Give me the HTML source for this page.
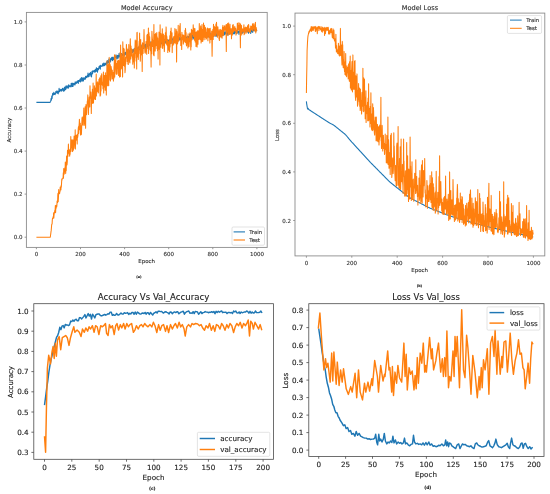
<!DOCTYPE html>
<html lang="en"><head><meta charset="utf-8"><title>Model accuracy and loss curves</title>
<style>
html,body{margin:0;padding:0;background:#fff;}
body{width:550px;height:494px;overflow:hidden;}
svg{display:block;font-family:"DejaVu Sans", "Liberation Sans", sans-serif;}
</style></head><body>
<svg width="550" height="494" viewBox="0 0 550 494">
<rect width="550" height="494" fill="#fff"/>
<g>
<polyline points="36.4,102.4 36.6,102.4 36.8,102.4 37.1,102.4 37.3,102.4 37.5,102.4 37.7,102.4 37.9,102.4 38.2,102.4 38.4,102.4 38.6,102.4 38.8,102.4 39.0,102.4 39.3,102.4 39.5,102.4 39.7,102.4 39.9,102.4 40.1,102.4 40.4,102.4 40.6,102.4 40.8,102.4 41.0,102.4 41.3,102.4 41.5,102.4 41.7,102.4 41.9,102.4 42.1,102.4 42.4,102.4 42.6,102.4 42.8,102.4 43.0,102.4 43.2,102.4 43.5,102.4 43.7,102.4 43.9,102.4 44.1,102.4 44.3,102.4 44.6,102.4 44.8,102.4 45.0,102.4 45.2,102.4 45.4,102.4 45.7,102.4 45.9,102.4 46.1,102.4 46.3,102.4 46.5,102.4 46.8,102.4 47.0,102.4 47.2,102.4 47.4,102.4 47.6,102.4 47.9,102.4 48.1,102.4 48.3,102.4 48.5,102.4 48.7,102.4 49.0,102.4 49.2,102.4 49.4,102.4 49.6,102.4 49.9,102.4 50.1,102.4 50.3,101.9 50.5,101.5 50.7,101.2 51.0,99.4 51.2,98.2 51.4,100.3 51.6,98.7 51.8,96.1 52.1,98.4 52.3,95.7 52.5,95.1 52.7,93.3 52.9,93.9 53.2,94.9 53.4,94.8 53.6,94.6 53.8,92.3 54.0,94.5 54.3,94.2 54.5,93.3 54.7,93.7 54.9,93.7 55.1,94.6 55.4,93.2 55.6,93.6 55.8,91.5 56.0,92.0 56.2,92.6 56.5,91.7 56.7,92.7 56.9,90.9 57.1,92.1 57.3,91.2 57.6,93.3 57.8,91.2 58.0,93.5 58.2,93.8 58.5,91.6 58.7,92.2 58.9,90.8 59.1,88.3 59.3,91.8 59.6,91.4 59.8,90.4 60.0,89.9 60.2,90.6 60.4,90.5 60.7,89.4 60.9,89.5 61.1,91.2 61.3,90.0 61.5,89.7 61.8,90.9 62.0,89.3 62.2,90.5 62.4,88.2 62.6,89.0 62.9,89.0 63.1,89.7 63.3,89.1 63.5,91.2 63.7,90.1 64.0,88.2 64.2,91.0 64.4,87.4 64.6,90.4 64.8,87.3 65.1,89.1 65.3,87.1 65.5,87.7 65.7,89.6 65.9,86.2 66.2,85.9 66.4,87.6 66.6,87.7 66.8,87.5 67.0,88.3 67.3,85.8 67.5,87.6 67.7,86.9 67.9,87.7 68.2,87.4 68.4,88.1 68.6,84.9 68.8,86.5 69.0,85.1 69.3,86.1 69.5,86.8 69.7,86.3 69.9,86.5 70.1,85.7 70.4,86.0 70.6,85.9 70.8,87.0 71.0,86.2 71.2,83.2 71.5,85.9 71.7,86.2 71.9,84.5 72.1,83.1 72.3,86.4 72.6,84.8 72.8,85.2 73.0,86.4 73.2,83.4 73.4,84.2 73.7,84.0 73.9,84.8 74.1,83.3 74.3,84.4 74.5,83.8 74.8,84.8 75.0,84.9 75.2,81.7 75.4,83.8 75.6,82.8 75.9,83.0 76.1,83.4 76.3,83.4 76.5,81.9 76.8,82.9 77.0,82.7 77.2,82.4 77.4,80.9 77.6,81.4 77.9,81.6 78.1,82.6 78.3,83.5 78.5,80.6 78.7,80.5 79.0,81.6 79.2,80.7 79.4,80.2 79.6,80.0 79.8,79.8 80.1,81.3 80.3,78.8 80.5,81.9 80.7,79.3 80.9,79.5 81.2,78.9 81.4,77.6 81.6,77.9 81.8,80.9 82.0,81.4 82.3,78.3 82.5,80.3 82.7,79.0 82.9,77.8 83.1,80.6 83.4,81.0 83.6,78.1 83.8,78.2 84.0,78.4 84.2,77.9 84.5,78.8 84.7,79.4 84.9,77.7 85.1,78.5 85.4,79.1 85.6,76.4 85.8,77.0 86.0,76.3 86.2,77.8 86.5,77.2 86.7,77.5 86.9,77.2 87.1,75.8 87.3,76.8 87.6,75.3 87.8,75.2 88.0,73.0 88.2,76.9 88.4,74.1 88.7,75.1 88.9,74.8 89.1,76.4 89.3,75.1 89.5,73.5 89.8,74.3 90.0,74.0 90.2,74.3 90.4,72.4 90.6,73.7 90.9,76.1 91.1,74.2 91.3,75.5 91.5,76.9 91.7,73.5 92.0,71.2 92.2,72.6 92.4,73.9 92.6,73.4 92.8,70.8 93.1,71.8 93.3,71.8 93.5,71.8 93.7,71.5 94.0,70.5 94.2,70.6 94.4,70.9 94.6,72.2 94.8,70.2 95.1,71.5 95.3,69.3 95.5,71.9 95.7,70.4 95.9,70.1 96.2,71.5 96.4,67.8 96.6,67.9 96.8,70.1 97.0,68.5 97.3,68.8 97.5,72.2 97.7,68.6 97.9,68.9 98.1,68.5 98.4,69.8 98.6,68.7 98.8,68.4 99.0,66.6 99.2,67.5 99.5,67.8 99.7,65.8 99.9,68.1 100.1,67.8 100.3,69.3 100.6,65.2 100.8,65.7 101.0,65.6 101.2,65.8 101.4,66.3 101.7,66.0 101.9,66.4 102.1,66.2 102.3,65.8 102.6,63.9 102.8,64.9 103.0,65.5 103.2,65.9 103.4,65.8 103.7,63.0 103.9,64.2 104.1,64.6 104.3,64.9 104.5,65.7 104.8,64.3 105.0,63.0 105.2,64.4 105.4,64.0 105.6,63.9 105.9,63.3 106.1,65.2 106.3,63.5 106.5,64.0 106.7,61.8 107.0,63.6 107.2,61.9 107.4,60.6 107.6,62.7 107.8,62.9 108.1,61.8 108.3,61.9 108.5,62.9 108.7,61.0 108.9,59.0 109.2,61.6 109.4,61.4 109.6,62.2 109.8,60.4 110.0,62.1 110.3,61.8 110.5,58.9 110.7,61.3 110.9,58.8 111.1,58.1 111.4,59.5 111.6,59.0 111.8,57.2 112.0,59.6 112.3,59.9 112.5,60.6 112.7,58.8 112.9,57.0 113.1,57.5 113.4,59.6 113.6,59.3 113.8,58.8 114.0,57.7 114.2,58.1 114.5,57.5 114.7,57.2 114.9,57.8 115.1,57.4 115.3,57.0 115.6,57.3 115.8,56.5 116.0,54.8 116.2,56.2 116.4,56.8 116.7,58.7 116.9,56.2 117.1,58.9 117.3,58.2 117.5,55.4 117.8,55.5 118.0,56.4 118.2,58.2 118.4,56.5 118.6,56.8 118.9,55.2 119.1,53.2 119.3,55.5 119.5,56.6 119.7,57.0 120.0,55.6 120.2,55.6 120.4,56.7 120.6,55.1 120.9,56.5 121.1,53.8 121.3,53.7 121.5,53.6 121.7,55.4 122.0,54.1 122.2,54.8 122.4,55.0 122.6,54.9 122.8,55.9 123.1,56.0 123.3,53.3 123.5,54.4 123.7,53.8 123.9,52.8 124.2,56.0 124.4,54.7 124.6,53.5 124.8,53.2 125.0,54.0 125.3,52.3 125.5,53.1 125.7,54.7 125.9,54.3 126.1,52.2 126.4,52.5 126.6,55.2 126.8,51.3 127.0,52.1 127.2,51.1 127.5,53.1 127.7,52.9 127.9,53.8 128.1,49.4 128.3,52.5 128.6,50.3 128.8,52.9 129.0,51.9 129.2,53.9 129.5,52.3 129.7,50.6 129.9,53.2 130.1,50.4 130.3,51.1 130.6,52.7 130.8,52.0 131.0,51.8 131.2,51.3 131.4,51.8 131.7,52.0 131.9,51.3 132.1,52.1 132.3,52.3 132.5,50.8 132.8,49.6 133.0,52.4 133.2,50.5 133.4,51.1 133.6,51.4 133.9,49.2 134.1,50.7 134.3,48.3 134.5,50.9 134.7,49.4 135.0,50.1 135.2,50.6 135.4,48.9 135.6,49.7 135.8,48.7 136.1,49.4 136.3,50.6 136.5,49.3 136.7,49.1 136.9,47.9 137.2,50.0 137.4,48.9 137.6,50.8 137.8,47.9 138.1,49.9 138.3,50.7 138.5,48.5 138.7,47.0 138.9,50.1 139.2,49.5 139.4,49.0 139.6,49.4 139.8,47.5 140.0,48.8 140.3,48.6 140.5,47.0 140.7,48.5 140.9,47.0 141.1,48.6 141.4,48.8 141.6,49.4 141.8,45.0 142.0,47.5 142.2,46.7 142.5,47.0 142.7,46.7 142.9,46.7 143.1,44.4 143.3,47.8 143.6,48.4 143.8,47.6 144.0,47.9 144.2,45.4 144.4,45.2 144.7,47.2 144.9,47.7 145.1,46.3 145.3,44.2 145.5,49.1 145.8,45.0 146.0,46.9 146.2,44.3 146.4,46.7 146.7,45.7 146.9,47.0 147.1,46.3 147.3,43.4 147.5,44.0 147.8,45.4 148.0,45.9 148.2,47.0 148.4,45.1 148.6,44.6 148.9,44.6 149.1,44.5 149.3,45.7 149.5,44.3 149.7,44.2 150.0,42.5 150.2,41.8 150.4,44.2 150.6,44.9 150.8,44.0 151.1,44.6 151.3,44.7 151.5,43.9 151.7,45.0 151.9,43.0 152.2,43.8 152.4,43.4 152.6,43.8 152.8,44.4 153.0,44.7 153.3,43.8 153.5,44.1 153.7,43.1 153.9,43.4 154.1,45.0 154.4,43.2 154.6,44.9 154.8,44.0 155.0,43.5 155.2,45.6 155.5,43.0 155.7,42.9 155.9,43.2 156.1,43.5 156.4,43.4 156.6,44.1 156.8,43.2 157.0,43.5 157.2,42.7 157.5,44.2 157.7,42.5 157.9,42.5 158.1,42.8 158.3,43.1 158.6,41.9 158.8,44.5 159.0,42.0 159.2,42.2 159.4,42.1 159.7,41.9 159.9,43.1 160.1,42.6 160.3,41.5 160.5,41.7 160.8,41.9 161.0,43.9 161.2,41.5 161.4,40.7 161.6,40.8 161.9,41.7 162.1,43.8 162.3,40.8 162.5,42.1 162.7,44.8 163.0,41.4 163.2,43.5 163.4,43.3 163.6,42.4 163.8,40.1 164.1,42.1 164.3,41.3 164.5,39.5 164.7,39.6 165.0,41.6 165.2,41.7 165.4,42.9 165.6,42.2 165.8,40.8 166.1,40.8 166.3,41.1 166.5,40.0 166.7,42.1 166.9,41.2 167.2,40.2 167.4,40.4 167.6,39.7 167.8,40.5 168.0,41.3 168.3,40.5 168.5,42.0 168.7,42.8 168.9,40.1 169.1,40.8 169.4,40.3 169.6,42.7 169.8,41.1 170.0,41.3 170.2,41.6 170.5,43.2 170.7,40.9 170.9,39.4 171.1,39.9 171.3,41.1 171.6,40.3 171.8,39.4 172.0,43.5 172.2,40.3 172.4,39.5 172.7,39.3 172.9,38.1 173.1,38.7 173.3,39.6 173.6,39.6 173.8,39.0 174.0,40.5 174.2,39.9 174.4,38.7 174.7,37.5 174.9,39.9 175.1,39.8 175.3,39.4 175.5,38.0 175.8,39.6 176.0,37.8 176.2,40.7 176.4,39.7 176.6,39.7 176.9,38.5 177.1,38.1 177.3,41.1 177.5,40.4 177.7,38.8 178.0,40.0 178.2,41.0 178.4,37.9 178.6,38.5 178.8,38.5 179.1,39.6 179.3,37.7 179.5,39.2 179.7,37.6 179.9,39.9 180.2,39.8 180.4,38.5 180.6,39.6 180.8,37.9 181.0,38.4 181.3,39.7 181.5,38.5 181.7,39.0 181.9,37.4 182.2,39.2 182.4,39.0 182.6,37.0 182.8,35.7 183.0,35.9 183.3,38.2 183.5,38.0 183.7,36.4 183.9,38.3 184.1,39.3 184.4,37.9 184.6,37.5 184.8,39.0 185.0,39.9 185.2,39.6 185.5,37.1 185.7,38.8 185.9,38.0 186.1,37.5 186.3,37.0 186.6,38.1 186.8,37.1 187.0,38.7 187.2,38.0 187.4,38.8 187.7,36.2 187.9,37.5 188.1,38.3 188.3,37.8 188.5,37.6 188.8,36.5 189.0,39.2 189.2,38.5 189.4,37.6 189.6,34.2 189.9,36.0 190.1,37.2 190.3,36.2 190.5,34.6 190.8,37.2 191.0,37.4 191.2,35.5 191.4,36.3 191.6,36.1 191.9,37.5 192.1,34.6 192.3,34.8 192.5,36.1 192.7,36.0 193.0,39.1 193.2,36.0 193.4,36.9 193.6,36.2 193.8,35.8 194.1,37.0 194.3,38.6 194.5,36.1 194.7,37.4 194.9,36.9 195.2,37.2 195.4,36.9 195.6,39.2 195.8,35.0 196.0,36.1 196.3,35.1 196.5,34.0 196.7,36.3 196.9,38.5 197.1,37.4 197.4,37.7 197.6,36.9 197.8,36.1 198.0,38.6 198.2,35.8 198.5,38.0 198.7,35.8 198.9,36.3 199.1,36.5 199.3,36.2 199.6,36.7 199.8,36.8 200.0,38.0 200.2,36.0 200.5,33.8 200.7,33.6 200.9,34.3 201.1,35.1 201.3,36.7 201.6,34.1 201.8,35.9 202.0,35.9 202.2,36.1 202.4,35.6 202.7,36.2 202.9,35.8 203.1,37.0 203.3,36.1 203.5,32.9 203.8,35.7 204.0,35.9 204.2,34.9 204.4,34.7 204.6,36.8 204.9,35.7 205.1,34.4 205.3,35.1 205.5,35.3 205.7,33.6 206.0,36.2 206.2,35.3 206.4,36.0 206.6,33.6 206.8,37.6 207.1,36.1 207.3,35.9 207.5,34.4 207.7,34.5 207.9,33.5 208.2,37.0 208.4,34.2 208.6,35.5 208.8,35.9 209.1,34.4 209.3,36.1 209.5,37.5 209.7,35.4 209.9,36.7 210.2,35.7 210.4,34.5 210.6,34.5 210.8,33.0 211.0,35.1 211.3,36.7 211.5,35.7 211.7,35.9 211.9,36.2 212.1,34.2 212.4,35.5 212.6,37.0 212.8,33.8 213.0,34.8 213.2,34.2 213.5,34.5 213.7,33.8 213.9,34.5 214.1,33.1 214.3,34.0 214.6,34.0 214.8,34.0 215.0,36.2 215.2,34.6 215.4,34.7 215.7,34.1 215.9,36.0 216.1,32.4 216.3,34.2 216.5,35.7 216.8,36.3 217.0,34.6 217.2,34.3 217.4,35.0 217.7,34.1 217.9,34.9 218.1,33.5 218.3,35.0 218.5,34.1 218.8,32.9 219.0,31.0 219.2,35.2 219.4,34.5 219.6,35.0 219.9,33.0 220.1,35.3 220.3,34.5 220.5,33.9 220.7,35.0 221.0,35.0 221.2,34.4 221.4,36.3 221.6,35.5 221.8,34.2 222.1,33.5 222.3,33.9 222.5,35.8 222.7,34.2 222.9,32.7 223.2,32.9 223.4,33.7 223.6,34.6 223.8,32.8 224.0,34.2 224.3,34.9 224.5,34.4 224.7,31.7 224.9,33.2 225.1,32.0 225.4,33.9 225.6,32.2 225.8,34.0 226.0,33.5 226.3,30.3 226.5,32.3 226.7,33.8 226.9,33.3 227.1,32.8 227.4,31.7 227.6,33.7 227.8,35.2 228.0,33.4 228.2,33.0 228.5,32.9 228.7,31.5 228.9,32.6 229.1,32.0 229.3,34.3 229.6,31.9 229.8,30.4 230.0,32.0 230.2,32.6 230.4,32.7 230.7,30.7 230.9,33.9 231.1,32.9 231.3,32.2 231.5,31.8 231.8,33.2 232.0,32.3 232.2,33.0 232.4,32.5 232.6,32.8 232.9,33.9 233.1,32.6 233.3,31.5 233.5,33.7 233.7,32.8 234.0,31.7 234.2,33.7 234.4,32.2 234.6,33.7 234.8,31.0 235.1,29.6 235.3,29.9 235.5,32.6 235.7,31.4 236.0,32.1 236.2,32.1 236.4,30.4 236.6,33.8 236.8,30.9 237.1,32.2 237.3,30.5 237.5,31.9 237.7,32.9 237.9,31.7 238.2,31.2 238.4,32.0 238.6,31.4 238.8,32.6 239.0,34.5 239.3,30.9 239.5,31.1 239.7,31.7 239.9,31.8 240.1,30.6 240.4,32.3 240.6,32.6 240.8,32.0 241.0,30.3 241.2,33.4 241.5,30.3 241.7,32.4 241.9,32.9 242.1,30.1 242.3,31.7 242.6,33.1 242.8,32.0 243.0,30.4 243.2,30.1 243.4,32.0 243.7,31.0 243.9,30.6 244.1,32.2 244.3,31.0 244.6,31.4 244.8,32.0 245.0,31.9 245.2,31.2 245.4,31.2 245.7,31.9 245.9,31.7 246.1,29.9 246.3,30.9 246.5,30.1 246.8,29.7 247.0,30.4 247.2,28.4 247.4,32.0 247.6,30.1 247.9,31.4 248.1,28.8 248.3,29.0 248.5,33.3 248.7,32.1 249.0,30.1 249.2,29.9 249.4,30.0 249.6,30.9 249.8,30.3 250.1,30.0 250.3,30.9 250.5,29.5 250.7,33.4 250.9,30.0 251.2,31.9 251.4,29.5 251.6,30.9 251.8,31.7 252.0,30.1 252.3,31.6 252.5,31.6 252.7,32.4 252.9,30.5 253.2,29.9 253.4,29.2 253.6,30.6 253.8,29.2 254.0,30.4 254.3,30.5 254.5,29.7 254.7,29.1 254.9,30.7 255.1,30.6 255.4,30.4 255.6,30.1 255.8,31.3 256.0,29.0 256.2,30.6 256.5,29.6 256.7,31.1" fill="none" stroke="#1f77b4" stroke-width="1.1" stroke-linejoin="round" stroke-opacity="1"/>
<polyline points="36.4,237.2 36.6,237.2 36.8,237.2 37.1,237.2 37.3,237.2 37.5,237.2 37.7,237.2 37.9,237.2 38.2,237.2 38.4,237.2 38.6,237.2 38.8,237.2 39.0,237.2 39.3,237.2 39.5,237.2 39.7,237.2 39.9,237.2 40.1,237.2 40.4,237.2 40.6,237.2 40.8,237.2 41.0,237.2 41.3,237.2 41.5,237.2 41.7,237.2 41.9,237.2 42.1,237.2 42.4,237.2 42.6,237.2 42.8,237.2 43.0,237.2 43.2,237.2 43.5,237.2 43.7,237.2 43.9,237.2 44.1,237.2 44.3,237.2 44.6,237.2 44.8,237.2 45.0,237.2 45.2,237.2 45.4,237.2 45.7,237.2 45.9,237.2 46.1,237.2 46.3,237.2 46.5,237.2 46.8,237.2 47.0,237.2 47.2,237.2 47.4,237.2 47.6,237.2 47.9,237.2 48.1,237.2 48.3,237.2 48.5,237.2 48.7,237.2 49.0,237.2 49.2,237.2 49.4,237.2 49.6,237.2 49.9,237.2 50.1,237.2 50.3,237.2 50.5,235.5 50.7,234.1 51.0,231.7 51.2,230.4 51.4,228.1 51.6,225.5 51.8,224.0 52.1,224.0 52.3,220.0 52.5,218.4 52.7,218.7 52.9,218.3 53.2,216.5 53.4,217.9 53.6,212.7 53.8,218.1 54.0,215.4 54.3,213.3 54.5,212.5 54.7,211.1 54.9,210.1 55.1,210.3 55.4,205.4 55.6,212.8 55.8,207.8 56.0,208.6 56.2,206.1 56.5,205.1 56.7,206.9 56.9,205.4 57.1,201.1 57.3,201.1 57.6,202.6 57.8,195.0 58.0,193.3 58.2,201.8 58.5,196.3 58.7,189.5 58.9,193.0 59.1,193.5 59.3,193.7 59.6,193.7 59.8,191.8 60.0,191.8 60.2,187.1 60.4,189.5 60.7,188.6 60.9,190.0 61.1,185.5 61.3,187.2 61.5,184.0 61.8,179.0 62.0,180.2 62.2,178.7 62.4,178.2 62.6,178.2 62.9,177.9 63.1,177.5 63.3,172.8 63.5,178.3 63.7,168.6 64.0,172.3 64.2,174.2 64.4,172.3 64.6,172.0 64.8,167.9 65.1,170.3 65.3,162.0 65.5,168.6 65.7,173.6 65.9,166.5 66.2,170.8 66.4,161.7 66.6,156.1 66.8,157.2 67.0,164.9 67.3,161.8 67.5,150.2 67.7,155.8 67.9,156.5 68.2,151.2 68.4,144.1 68.6,148.7 68.8,153.3 69.0,151.6 69.3,149.7 69.5,154.8 69.7,156.3 69.9,150.3 70.1,154.4 70.4,149.5 70.6,148.1 70.8,136.6 71.0,151.4 71.2,147.2 71.5,146.7 71.7,143.1 71.9,139.7 72.1,146.8 72.3,148.0 72.6,151.6 72.8,147.6 73.0,139.9 73.2,141.9 73.4,150.3 73.7,143.1 73.9,140.6 74.1,136.0 74.3,142.9 74.5,140.7 74.8,148.3 75.0,144.5 75.2,129.8 75.4,148.9 75.6,139.0 75.9,135.6 76.1,138.3 76.3,140.1 76.5,135.8 76.8,135.0 77.0,135.3 77.2,144.0 77.4,134.4 77.6,137.7 77.9,135.7 78.1,131.1 78.3,128.4 78.5,126.6 78.7,133.6 79.0,125.5 79.2,123.7 79.4,119.2 79.6,121.6 79.8,129.5 80.1,129.9 80.3,123.3 80.5,134.9 80.7,125.6 80.9,129.1 81.2,127.6 81.4,134.6 81.6,129.3 81.8,123.8 82.0,118.1 82.3,116.9 82.5,122.3 82.7,122.3 82.9,125.3 83.1,117.7 83.4,120.8 83.6,115.3 83.8,108.1 84.0,117.7 84.2,125.5 84.5,121.2 84.7,124.1 84.9,122.0 85.1,106.8 85.4,112.5 85.6,128.3 85.8,108.7 86.0,104.6 86.2,113.5 86.5,114.7 86.7,112.1 86.9,107.8 87.1,105.1 87.3,101.2 87.6,100.4 87.8,94.9 88.0,98.2 88.2,101.8 88.4,114.4 88.7,105.3 88.9,100.7 89.1,105.6 89.3,97.1 89.5,104.3 89.8,107.1 90.0,85.8 90.2,96.1 90.4,98.2 90.6,93.2 90.9,92.1 91.1,96.3 91.3,113.4 91.5,102.1 91.7,100.4 92.0,103.4 92.2,95.7 92.4,89.2 92.6,99.4 92.8,103.2 93.1,83.1 93.3,98.4 93.5,103.0 93.7,93.5 94.0,92.0 94.2,98.8 94.4,85.7 94.6,96.9 94.8,99.3 95.1,92.1 95.3,88.1 95.5,99.5 95.7,90.3 95.9,92.7 96.2,74.1 96.4,96.0 96.6,82.6 96.8,91.3 97.0,91.5 97.3,85.9 97.5,84.5 97.7,81.8 97.9,87.5 98.1,93.0 98.4,92.4 98.6,83.2 98.8,84.7 99.0,79.3 99.2,83.3 99.5,80.8 99.7,77.7 99.9,85.9 100.1,96.1 100.3,93.9 100.6,95.2 100.8,75.8 101.0,90.9 101.2,77.5 101.4,81.3 101.7,73.8 101.9,78.0 102.1,84.8 102.3,85.1 102.6,83.0 102.8,82.1 103.0,88.7 103.2,83.0 103.4,72.1 103.7,92.9 103.9,80.1 104.1,87.3 104.3,80.0 104.5,75.6 104.8,81.0 105.0,75.4 105.2,90.2 105.4,72.7 105.6,86.0 105.9,75.2 106.1,77.7 106.3,95.1 106.5,83.1 106.7,76.6 107.0,60.8 107.2,75.6 107.4,75.4 107.6,85.8 107.8,67.3 108.1,64.6 108.3,75.7 108.5,77.0 108.7,85.7 108.9,69.4 109.2,57.4 109.4,69.9 109.6,60.4 109.8,70.4 110.0,79.9 110.3,64.7 110.5,80.9 110.7,74.0 110.9,69.3 111.1,66.4 111.4,69.1 111.6,69.0 111.8,76.1 112.0,79.2 112.3,70.2 112.5,74.9 112.7,78.5 112.9,77.9 113.1,72.6 113.4,81.1 113.6,77.6 113.8,79.1 114.0,67.1 114.2,65.4 114.5,54.7 114.7,77.1 114.9,71.5 115.1,61.0 115.3,69.1 115.6,68.7 115.8,55.3 116.0,68.3 116.2,73.5 116.4,74.3 116.7,63.4 116.9,63.4 117.1,74.1 117.3,71.4 117.5,61.3 117.8,60.9 118.0,68.6 118.2,60.2 118.4,60.3 118.6,75.4 118.9,65.7 119.1,60.8 119.3,67.0 119.5,77.0 119.7,64.7 120.0,57.8 120.2,52.2 120.4,76.6 120.6,45.1 120.9,69.3 121.1,55.5 121.3,53.5 121.5,54.9 121.7,60.2 122.0,68.5 122.2,56.7 122.4,65.2 122.6,76.9 122.8,41.7 123.1,55.4 123.3,47.9 123.5,65.6 123.7,49.8 123.9,48.8 124.2,48.9 124.4,59.0 124.6,66.5 124.8,59.6 125.0,72.7 125.3,69.2 125.5,57.3 125.7,64.2 125.9,58.6 126.1,58.0 126.4,44.4 126.6,48.4 126.8,57.0 127.0,48.6 127.2,61.5 127.5,58.4 127.7,50.1 127.9,64.1 128.1,57.6 128.3,64.4 128.6,54.8 128.8,44.6 129.0,60.2 129.2,53.6 129.5,60.9 129.7,62.4 129.9,62.9 130.1,45.0 130.3,38.8 130.6,51.1 130.8,58.9 131.0,46.1 131.2,56.1 131.4,48.5 131.7,51.7 131.9,50.3 132.1,49.3 132.3,57.0 132.5,55.7 132.8,64.3 133.0,55.7 133.2,62.1 133.4,53.5 133.6,58.7 133.9,51.6 134.1,49.1 134.3,68.0 134.5,57.2 134.7,57.9 135.0,46.6 135.2,40.1 135.4,45.6 135.6,53.5 135.8,41.3 136.1,60.9 136.3,40.8 136.5,55.0 136.7,68.9 136.9,32.7 137.2,32.3 137.4,56.9 137.6,48.8 137.8,51.2 138.1,49.0 138.3,59.4 138.5,53.9 138.7,46.1 138.9,47.6 139.2,41.0 139.4,48.3 139.6,33.1 139.8,53.4 140.0,45.6 140.3,61.3 140.5,56.8 140.7,39.5 140.9,54.5 141.1,44.7 141.4,48.5 141.6,55.0 141.8,50.3 142.0,51.3 142.2,71.4 142.5,42.7 142.7,43.3 142.9,51.4 143.1,53.5 143.3,45.5 143.6,48.0 143.8,40.5 144.0,29.6 144.2,37.6 144.4,47.3 144.7,48.1 144.9,52.5 145.1,52.8 145.3,53.3 145.5,51.1 145.8,49.4 146.0,41.6 146.2,49.0 146.4,47.6 146.7,54.2 146.9,35.4 147.1,42.8 147.3,34.3 147.5,40.7 147.8,36.1 148.0,48.5 148.2,41.0 148.4,28.0 148.6,53.5 148.9,32.4 149.1,34.3 149.3,42.6 149.5,40.3 149.7,36.8 150.0,49.4 150.2,42.3 150.4,50.7 150.6,49.3 150.8,48.9 151.1,67.1 151.3,43.6 151.5,41.5 151.7,53.8 151.9,31.3 152.2,36.7 152.4,39.4 152.6,46.5 152.8,44.7 153.0,40.4 153.3,41.2 153.5,54.9 153.7,38.9 153.9,24.5 154.1,55.8 154.4,37.0 154.6,41.0 154.8,44.1 155.0,34.3 155.2,51.0 155.5,42.1 155.7,33.4 155.9,44.3 156.1,45.6 156.4,42.1 156.6,45.7 156.8,32.5 157.0,48.5 157.2,36.8 157.5,50.6 157.7,38.0 157.9,43.0 158.1,59.1 158.3,42.2 158.6,49.1 158.8,45.0 159.0,32.0 159.2,49.3 159.4,48.9 159.7,32.5 159.9,65.0 160.1,24.8 160.3,39.7 160.5,47.4 160.8,42.1 161.0,33.6 161.2,35.5 161.4,41.5 161.6,41.1 161.9,42.1 162.1,47.7 162.3,28.8 162.5,41.2 162.7,48.5 163.0,44.2 163.2,36.4 163.4,34.0 163.6,41.9 163.8,45.2 164.1,40.7 164.3,51.6 164.5,49.1 164.7,35.6 165.0,43.8 165.2,38.3 165.4,32.8 165.6,36.4 165.8,40.4 166.1,26.9 166.3,33.2 166.5,44.2 166.7,35.7 166.9,37.7 167.2,45.6 167.4,39.7 167.6,41.1 167.8,52.4 168.0,41.8 168.3,41.7 168.5,42.6 168.7,50.1 168.9,42.0 169.1,40.0 169.4,39.1 169.6,51.7 169.8,35.7 170.0,47.1 170.2,40.9 170.5,31.4 170.7,43.7 170.9,42.5 171.1,28.0 171.3,41.6 171.6,41.0 171.8,36.8 172.0,32.7 172.2,52.6 172.4,44.1 172.7,45.1 172.9,45.5 173.1,44.1 173.3,43.9 173.6,36.9 173.8,44.1 174.0,37.4 174.2,36.2 174.4,42.9 174.7,37.7 174.9,28.6 175.1,36.5 175.3,42.2 175.5,38.7 175.8,43.7 176.0,36.6 176.2,29.4 176.4,43.0 176.6,61.9 176.9,31.4 177.1,40.9 177.3,36.8 177.5,44.0 177.7,42.7 178.0,40.9 178.2,25.3 178.4,40.1 178.6,40.8 178.8,40.9 179.1,38.6 179.3,33.9 179.5,36.5 179.7,25.9 179.9,36.3 180.2,23.5 180.4,35.9 180.6,34.0 180.8,45.6 181.0,38.1 181.3,37.7 181.5,39.7 181.7,49.4 181.9,32.3 182.2,39.4 182.4,39.6 182.6,38.6 182.8,38.4 183.0,34.8 183.3,44.1 183.5,42.2 183.7,35.4 183.9,36.2 184.1,39.0 184.4,40.1 184.6,41.5 184.8,37.2 185.0,30.3 185.2,42.6 185.5,28.4 185.7,32.1 185.9,39.1 186.1,32.4 186.3,44.6 186.6,46.0 186.8,43.6 187.0,38.7 187.2,38.2 187.4,39.2 187.7,35.9 187.9,47.9 188.1,33.7 188.3,44.0 188.5,39.8 188.8,38.5 189.0,46.8 189.2,43.5 189.4,41.5 189.6,36.2 189.9,32.9 190.1,33.0 190.3,41.3 190.5,40.2 190.8,49.9 191.0,33.5 191.2,46.7 191.4,29.3 191.6,38.4 191.9,39.9 192.1,34.0 192.3,30.3 192.5,33.9 192.7,30.1 193.0,34.4 193.2,24.7 193.4,29.1 193.6,36.4 193.8,28.0 194.1,34.6 194.3,35.0 194.5,40.2 194.7,36.8 194.9,28.5 195.2,42.0 195.4,31.9 195.6,33.4 195.8,33.8 196.0,46.4 196.3,35.7 196.5,31.8 196.7,38.9 196.9,34.6 197.1,47.1 197.4,31.6 197.6,38.3 197.8,30.5 198.0,44.2 198.2,31.3 198.5,36.0 198.7,30.7 198.9,39.4 199.1,37.8 199.3,23.5 199.6,38.8 199.8,38.1 200.0,35.9 200.2,39.6 200.5,28.6 200.7,25.9 200.9,37.9 201.1,42.9 201.3,28.6 201.6,28.9 201.8,30.3 202.0,24.6 202.2,41.5 202.4,35.0 202.7,40.9 202.9,41.1 203.1,29.3 203.3,39.6 203.5,23.0 203.8,33.7 204.0,37.1 204.2,30.1 204.4,25.2 204.6,31.5 204.9,39.7 205.1,30.8 205.3,27.2 205.5,36.1 205.7,37.4 206.0,28.8 206.2,33.0 206.4,38.9 206.6,35.4 206.8,37.1 207.1,32.1 207.3,33.0 207.5,28.0 207.7,30.1 207.9,40.7 208.2,31.4 208.4,29.1 208.6,31.2 208.8,28.5 209.1,35.8 209.3,37.6 209.5,28.8 209.7,38.1 209.9,43.1 210.2,28.3 210.4,36.4 210.6,34.4 210.8,39.4 211.0,39.0 211.3,38.2 211.5,34.5 211.7,31.1 211.9,43.3 212.1,56.3 212.4,38.1 212.6,37.5 212.8,29.6 213.0,33.0 213.2,39.5 213.5,24.3 213.7,36.4 213.9,31.4 214.1,31.6 214.3,26.2 214.6,34.5 214.8,28.0 215.0,35.7 215.2,27.5 215.4,35.7 215.7,33.9 215.9,24.1 216.1,30.9 216.3,31.8 216.5,22.3 216.8,30.7 217.0,35.7 217.2,26.8 217.4,37.2 217.7,27.3 217.9,27.0 218.1,34.5 218.3,34.7 218.5,31.3 218.8,31.9 219.0,39.0 219.2,29.6 219.4,40.5 219.6,33.7 219.9,33.6 220.1,33.0 220.3,30.6 220.5,36.9 220.7,29.4 221.0,32.5 221.2,36.2 221.4,37.3 221.6,36.5 221.8,30.2 222.1,38.2 222.3,31.3 222.5,27.3 222.7,27.4 222.9,25.3 223.2,33.5 223.4,35.8 223.6,27.4 223.8,30.2 224.0,27.0 224.3,31.3 224.5,26.7 224.7,25.7 224.9,28.5 225.1,29.3 225.4,29.7 225.6,30.3 225.8,30.3 226.0,24.7 226.3,51.4 226.5,24.5 226.7,31.5 226.9,27.3 227.1,31.4 227.4,32.0 227.6,23.4 227.8,32.1 228.0,35.7 228.2,33.6 228.5,32.1 228.7,22.9 228.9,30.1 229.1,27.4 229.3,34.5 229.6,28.6 229.8,28.3 230.0,24.2 230.2,33.2 230.4,28.5 230.7,29.6 230.9,34.3 231.1,30.7 231.3,31.5 231.5,38.8 231.8,28.4 232.0,28.6 232.2,32.0 232.4,35.1 232.6,25.3 232.9,29.5 233.1,24.4 233.3,25.5 233.5,32.1 233.7,27.5 234.0,31.1 234.2,30.5 234.4,30.7 234.6,30.2 234.8,26.4 235.1,29.7 235.3,30.7 235.5,31.0 235.7,28.2 236.0,35.1 236.2,31.7 236.4,30.2 236.6,31.8 236.8,30.4 237.1,33.3 237.3,23.4 237.5,25.6 237.7,28.4 237.9,30.0 238.2,22.8 238.4,28.8 238.6,30.0 238.8,28.8 239.0,28.8 239.3,25.3 239.5,29.7 239.7,23.1 239.9,32.4 240.1,27.4 240.4,47.7 240.6,24.0 240.8,31.2 241.0,29.7 241.2,26.7 241.5,25.6 241.7,35.1 241.9,30.4 242.1,33.5 242.3,28.7 242.6,29.6 242.8,30.3 243.0,31.3 243.2,30.4 243.4,31.4 243.7,27.7 243.9,24.8 244.1,34.7 244.3,29.5 244.6,30.3 244.8,27.7 245.0,33.7 245.2,29.4 245.4,31.9 245.7,27.0 245.9,28.7 246.1,29.4 246.3,27.9 246.5,29.6 246.8,33.1 247.0,27.2 247.2,28.0 247.4,29.5 247.6,26.1 247.9,25.4 248.1,31.7 248.3,30.8 248.5,24.5 248.7,24.8 249.0,30.6 249.2,31.7 249.4,30.3 249.6,29.9 249.8,32.7 250.1,28.4 250.3,31.8 250.5,31.6 250.7,26.0 250.9,30.2 251.2,28.7 251.4,26.7 251.6,26.2 251.8,29.1 252.0,28.1 252.3,30.3 252.5,23.8 252.7,26.5 252.9,30.9 253.2,28.1 253.4,26.3 253.6,26.9 253.8,23.5 254.0,24.6 254.3,29.3 254.5,28.2 254.7,31.1 254.9,27.3 255.1,27.5 255.4,22.3 255.6,27.6 255.8,32.9 256.0,29.4 256.2,27.5 256.5,30.8 256.7,29.8" fill="none" stroke="#ff7f0e" stroke-width="1.05" stroke-linejoin="round" stroke-opacity="1"/>
<rect x="26.4" y="12.4" width="240.8" height="235.0" fill="none" stroke="#8c8c8c" stroke-width="0.9"/>
<line x1="36.4" y1="247.4" x2="36.4" y2="249.2" stroke="#8c8c8c" stroke-width="0.9"/>
<text x="36.4" y="256.0" font-size="5.5" text-anchor="middle" fill="#303030" stroke="#303030" stroke-width="0.12" font-weight="normal">0</text>
<line x1="80.5" y1="247.4" x2="80.5" y2="249.2" stroke="#8c8c8c" stroke-width="0.9"/>
<text x="80.5" y="256.0" font-size="5.5" text-anchor="middle" fill="#303030" stroke="#303030" stroke-width="0.12" font-weight="normal">200</text>
<line x1="124.6" y1="247.4" x2="124.6" y2="249.2" stroke="#8c8c8c" stroke-width="0.9"/>
<text x="124.6" y="256.0" font-size="5.5" text-anchor="middle" fill="#303030" stroke="#303030" stroke-width="0.12" font-weight="normal">400</text>
<line x1="168.7" y1="247.4" x2="168.7" y2="249.2" stroke="#8c8c8c" stroke-width="0.9"/>
<text x="168.7" y="256.0" font-size="5.5" text-anchor="middle" fill="#303030" stroke="#303030" stroke-width="0.12" font-weight="normal">600</text>
<line x1="212.8" y1="247.4" x2="212.8" y2="249.2" stroke="#8c8c8c" stroke-width="0.9"/>
<text x="212.8" y="256.0" font-size="5.5" text-anchor="middle" fill="#303030" stroke="#303030" stroke-width="0.12" font-weight="normal">800</text>
<line x1="256.9" y1="247.4" x2="256.9" y2="249.2" stroke="#8c8c8c" stroke-width="0.9"/>
<text x="256.9" y="256.0" font-size="5.5" text-anchor="middle" fill="#303030" stroke="#303030" stroke-width="0.12" font-weight="normal">1000</text>
<line x1="24.6" y1="237.2" x2="26.4" y2="237.2" stroke="#8c8c8c" stroke-width="0.9"/>
<text x="22.4" y="239.2" font-size="5.5" text-anchor="end" fill="#303030" stroke="#303030" stroke-width="0.12" font-weight="normal">0.0</text>
<line x1="24.6" y1="194.1" x2="26.4" y2="194.1" stroke="#8c8c8c" stroke-width="0.9"/>
<text x="22.4" y="196.1" font-size="5.5" text-anchor="end" fill="#303030" stroke="#303030" stroke-width="0.12" font-weight="normal">0.2</text>
<line x1="24.6" y1="151.1" x2="26.4" y2="151.1" stroke="#8c8c8c" stroke-width="0.9"/>
<text x="22.4" y="153.1" font-size="5.5" text-anchor="end" fill="#303030" stroke="#303030" stroke-width="0.12" font-weight="normal">0.4</text>
<line x1="24.6" y1="108.0" x2="26.4" y2="108.0" stroke="#8c8c8c" stroke-width="0.9"/>
<text x="22.4" y="110.0" font-size="5.5" text-anchor="end" fill="#303030" stroke="#303030" stroke-width="0.12" font-weight="normal">0.6</text>
<line x1="24.6" y1="65.0" x2="26.4" y2="65.0" stroke="#8c8c8c" stroke-width="0.9"/>
<text x="22.4" y="67.0" font-size="5.5" text-anchor="end" fill="#303030" stroke="#303030" stroke-width="0.12" font-weight="normal">0.8</text>
<line x1="24.6" y1="21.9" x2="26.4" y2="21.9" stroke="#8c8c8c" stroke-width="0.9"/>
<text x="22.4" y="23.9" font-size="5.5" text-anchor="end" fill="#303030" stroke="#303030" stroke-width="0.12" font-weight="normal">1.0</text>
<text x="146.8" y="9.5" font-size="6.55" text-anchor="middle" fill="#303030" stroke="#303030" stroke-width="0.12" font-weight="normal">Model Accuracy</text>
<text x="146.7" y="263.0" font-size="5.45" text-anchor="middle" fill="#303030" stroke="#303030" stroke-width="0.12" font-weight="normal">Epoch</text>
<text x="11.0" y="130.2" font-size="5.45" text-anchor="middle" fill="#303030" stroke="#303030" stroke-width="0.12" font-weight="normal" transform="rotate(-90 11.0 130.2)">Accuracy</text>
<rect x="232.0" y="227.0" width="32.5" height="18.2" rx="1.2" fill="#fff" fill-opacity="0.8" stroke="#d0d0d0" stroke-width="0.6"/>
<line x1="233.6" y1="231.9" x2="245.0" y2="231.9" stroke="#1f77b4" stroke-width="1.1"/>
<text x="249.3" y="233.8" font-size="5.4" text-anchor="start" fill="#303030" stroke="#303030" stroke-width="0.12" font-weight="normal">Train</text>
<line x1="233.6" y1="240.0" x2="245.0" y2="240.0" stroke="#ff7f0e" stroke-width="1.1"/>
<text x="249.3" y="241.9" font-size="5.4" text-anchor="start" fill="#303030" stroke="#303030" stroke-width="0.12" font-weight="normal">Test</text>
<text x="138.9" y="278.0" font-size="3.4" text-anchor="middle" fill="#222" stroke="#222" stroke-width="0.12" font-weight="bold">(a)</text>
</g>
<g>
<polyline points="306.4,101.4 306.6,103.3 306.9,105.1 307.1,106.3 307.3,107.5 307.5,108.7 307.8,109.0 308.0,109.2 308.2,108.4 308.4,108.9 308.7,109.2 308.9,109.5 309.1,109.8 309.4,109.9 309.6,110.0 309.8,110.2 310.0,110.3 310.3,110.5 310.5,110.6 310.7,110.8 310.9,110.9 311.2,111.1 311.4,111.2 311.6,111.4 311.8,111.5 312.1,111.7 312.3,111.8 312.5,112.0 312.8,112.1 313.0,112.3 313.2,112.4 313.4,112.6 313.7,112.7 313.9,112.9 314.1,113.0 314.3,113.1 314.6,113.3 314.8,113.4 315.0,113.6 315.3,113.7 315.5,113.9 315.7,114.0 315.9,114.2 316.2,114.3 316.4,114.5 316.6,114.6 316.8,114.8 317.1,114.9 317.3,115.1 317.5,115.2 317.8,115.4 318.0,115.5 318.2,115.7 318.4,115.8 318.7,115.9 318.9,116.1 319.1,116.2 319.3,116.4 319.6,116.5 319.8,116.7 320.0,116.8 320.2,117.0 320.5,117.1 320.7,117.3 320.9,117.4 321.2,117.6 321.4,117.7 321.6,117.9 321.8,118.0 322.1,118.2 322.3,118.3 322.5,118.5 322.7,118.6 323.0,118.7 323.2,118.9 323.4,119.0 323.7,119.2 323.9,119.3 324.1,119.5 324.3,119.6 324.6,119.8 324.8,119.9 325.0,120.1 325.2,120.2 325.5,120.4 325.7,120.5 325.9,120.7 326.1,120.8 326.4,120.9 326.6,121.1 326.8,121.2 327.1,121.4 327.3,121.5 327.5,121.7 327.7,121.8 328.0,122.0 328.2,122.1 328.4,122.3 328.6,122.4 328.9,122.6 329.1,122.7 329.3,122.8 329.6,123.0 329.8,123.1 330.0,123.2 330.2,123.3 330.5,123.4 330.7,123.5 330.9,123.7 331.1,123.8 331.4,123.9 331.6,124.0 331.8,124.1 332.1,124.2 332.3,124.3 332.5,124.4 332.7,124.5 333.0,124.7 333.2,124.8 333.4,125.0 333.6,125.1 333.9,125.3 334.1,125.4 334.3,125.6 334.5,125.8 334.8,126.0 335.0,126.2 335.2,126.3 335.5,126.5 335.7,126.7 335.9,126.9 336.1,127.1 336.4,127.2 336.6,127.4 336.8,127.6 337.0,127.8 337.3,128.0 337.5,128.2 337.7,128.3 338.0,128.5 338.2,128.7 338.4,128.9 338.6,129.1 338.9,129.3 339.1,129.4 339.3,129.6 339.5,129.8 339.8,130.0 340.0,130.2 340.2,130.3 340.4,130.5 340.7,130.7 340.9,130.9 341.1,131.1 341.4,131.3 341.6,131.4 341.8,131.6 342.0,131.8 342.3,132.0 342.5,132.2 342.7,132.4 342.9,132.5 343.2,132.7 343.4,132.9 343.6,133.1 343.9,133.3 344.1,133.4 344.3,133.6 344.5,133.8 344.8,134.0 345.0,134.2 345.2,134.5 345.4,134.7 345.7,134.9 345.9,135.1 346.1,135.4 346.4,135.6 346.6,135.9 346.8,136.1 347.0,136.4 347.3,136.7 347.5,137.0 347.7,137.3 347.9,137.5 348.2,137.8 348.4,138.1 348.6,138.4 348.8,138.7 349.1,138.9 349.3,139.2 349.5,139.5 349.8,139.7 350.0,140.0 350.2,140.3 350.4,140.5 350.7,140.8 350.9,141.0 351.1,141.3 351.3,141.6 351.6,141.8 351.8,142.1 352.0,142.3 352.3,142.6 352.5,142.8 352.7,143.0 352.9,143.3 353.2,143.5 353.4,143.8 353.6,144.0 353.8,144.3 354.1,144.5 354.3,144.8 354.5,145.0 354.8,145.3 355.0,145.5 355.2,145.8 355.4,146.0 355.7,146.3 355.9,146.5 356.1,146.8 356.3,147.0 356.6,147.3 356.8,147.5 357.0,147.8 357.2,148.0 357.5,148.3 357.7,148.5 357.9,148.8 358.2,149.0 358.4,149.3 358.6,149.5 358.8,149.8 359.1,150.0 359.3,150.3 359.5,150.5 359.7,150.8 360.0,151.0 360.2,151.3 360.4,151.5 360.7,151.7 360.9,152.0 361.1,152.2 361.3,152.5 361.6,152.7 361.8,153.0 362.0,153.2 362.2,153.5 362.5,153.7 362.7,154.0 362.9,154.2 363.1,154.5 363.4,154.7 363.6,155.0 363.8,155.2 364.1,155.5 364.3,155.7 364.5,156.0 364.7,156.2 365.0,156.5 365.2,156.7 365.4,157.0 365.6,157.2 365.9,157.5 366.1,157.7 366.3,158.0 366.6,158.2 366.8,158.5 367.0,158.7 367.2,159.0 367.5,159.2 367.7,159.5 367.9,159.7 368.1,159.9 368.4,160.2 368.6,160.4 368.8,160.7 369.1,160.9 369.3,161.2 369.5,161.4 369.7,161.7 370.0,161.9 370.2,162.1 370.4,162.4 370.6,162.6 370.9,162.8 371.1,163.1 371.3,163.3 371.5,163.5 371.8,163.8 372.0,164.0 372.2,164.2 372.5,164.5 372.7,164.7 372.9,164.9 373.1,165.1 373.4,165.4 373.6,165.6 373.8,165.8 374.0,166.1 374.3,166.3 374.5,166.5 374.7,166.8 375.0,167.0 375.2,167.2 375.4,167.4 375.6,167.7 375.9,167.9 376.1,168.1 376.3,168.4 376.5,168.6 376.8,168.8 377.0,169.0 377.2,169.3 377.5,169.5 377.7,169.7 377.9,170.0 378.1,170.2 378.4,170.4 378.6,170.6 378.8,170.9 379.0,171.1 379.3,171.3 379.5,171.6 379.7,171.8 379.9,172.0 380.2,172.3 380.4,172.5 380.6,172.7 380.9,172.9 381.1,173.2 381.3,173.4 381.5,173.6 381.8,173.9 382.0,174.1 382.2,174.3 382.4,174.5 382.7,174.8 382.9,175.0 383.1,175.2 383.4,175.5 383.6,175.7 383.8,175.9 384.0,176.1 384.3,176.4 384.5,176.6 384.7,176.8 384.9,177.1 385.2,177.3 385.4,177.5 385.6,177.8 385.8,178.0 386.1,178.2 386.3,178.4 386.5,178.7 386.8,178.9 387.0,179.1 387.2,179.4 387.4,179.6 387.7,179.8 387.9,180.0 388.1,180.3 388.3,180.5 388.6,180.7 388.8,181.0 389.0,181.2 389.3,181.4 389.5,181.6 389.7,181.8 389.9,182.0 390.2,182.2 390.4,182.4 390.6,182.6 390.8,182.8 391.1,183.0 391.3,183.2 391.5,183.4 391.8,183.5 392.0,183.7 392.2,183.9 392.4,184.1 392.7,184.3 392.9,184.4 393.1,184.6 393.3,184.8 393.6,185.0 393.8,185.2 394.0,185.3 394.2,185.5 394.5,185.7 394.7,185.9 394.9,186.1 395.2,186.2 395.4,186.4 395.6,186.6 395.8,186.8 396.1,187.0 396.3,187.1 396.5,187.3 396.7,187.5 397.0,187.7 397.2,187.8 397.4,188.0 397.7,188.2 397.9,188.4 398.1,188.6 398.3,188.7 398.6,188.9 398.8,189.1 399.0,189.3 399.2,189.5 399.5,189.6 399.7,189.8 399.9,190.0 400.2,190.2 400.4,190.4 400.6,190.5 400.8,190.7 401.1,190.9 401.3,191.1 401.5,191.3 401.7,191.4 402.0,191.6 402.2,191.8 402.4,192.0 402.6,192.2 402.9,192.3 403.1,192.5 403.3,192.7 403.6,192.9 403.8,193.1 404.0,193.2 404.2,193.4 404.5,193.6 404.7,193.8 404.9,194.0 405.1,194.1 405.4,194.3 405.6,194.5 405.8,194.7 406.1,194.8 406.3,195.0 406.5,195.2 406.7,195.4 407.0,195.6 407.2,195.7 407.4,195.9 407.6,196.1 407.9,196.3 408.1,196.5 408.3,196.6 408.5,196.8 408.8,197.0 409.0,197.2 409.2,197.3 409.5,197.5 409.7,197.6 409.9,197.8 410.1,197.9 410.4,198.1 410.6,198.2 410.8,198.3 411.0,198.5 411.3,198.6 411.5,198.7 411.7,198.8 412.0,198.9 412.2,199.1 412.4,199.2 412.6,199.3 412.9,199.4 413.1,199.5 413.3,199.6 413.5,199.8 413.8,199.9 414.0,200.0 414.2,200.1 414.5,200.2 414.7,200.3 414.9,200.5 415.1,200.6 415.4,200.7 415.6,200.8 415.8,200.9 416.0,201.0 416.3,201.1 416.5,201.3 416.7,201.4 416.9,201.5 417.2,201.6 417.4,201.7 417.6,201.8 417.9,202.0 418.1,202.1 418.3,202.2 418.5,202.3 418.8,202.4 419.0,202.5 419.2,202.7 419.4,202.8 419.7,202.9 419.9,203.0 420.1,203.1 420.4,203.2 420.6,203.4 420.8,203.5 421.0,203.6 421.3,203.7 421.5,203.8 421.7,203.9 421.9,204.0 422.2,204.2 422.4,204.3 422.6,204.4 422.9,204.5 423.1,204.6 423.3,204.7 423.5,204.9 423.8,205.0 424.0,205.1 424.2,205.2 424.4,205.3 424.7,205.4 424.9,205.6 425.1,205.7 425.3,205.8 425.6,205.9 425.8,206.0 426.0,206.1 426.3,206.3 426.5,206.4 426.7,206.5 426.9,206.6 427.2,206.7 427.4,206.8 427.6,206.9 427.8,207.1 428.1,207.2 428.3,207.3 428.5,207.4 428.8,207.5 429.0,207.6 429.2,207.7 429.4,207.8 429.7,208.0 429.9,208.1 430.1,208.2 430.3,208.3 430.6,208.4 430.8,208.5 431.0,208.5 431.2,208.6 431.5,208.7 431.7,208.8 431.9,208.9 432.2,209.0 432.4,209.1 432.6,209.2 432.8,209.3 433.1,209.3 433.3,209.4 433.5,209.5 433.7,209.6 434.0,209.7 434.2,209.8 434.4,209.9 434.7,210.0 434.9,210.1 435.1,210.1 435.3,210.2 435.6,210.3 435.8,210.4 436.0,210.5 436.2,210.6 436.5,210.7 436.7,210.8 436.9,210.9 437.2,210.9 437.4,211.0 437.6,211.1 437.8,211.2 438.1,211.3 438.3,211.4 438.5,211.5 438.7,211.6 439.0,211.7 439.2,211.7 439.4,211.8 439.6,211.9 439.9,212.0 440.1,212.1 440.3,212.2 440.6,212.3 440.8,212.4 441.0,212.5 441.2,212.5 441.5,212.6 441.7,212.7 441.9,212.8 442.1,212.9 442.4,213.0 442.6,213.1 442.8,213.2 443.1,213.3 443.3,213.3 443.5,213.4 443.7,213.5 444.0,213.6 444.2,213.7 444.4,213.8 444.6,213.9 444.9,214.0 445.1,214.1 445.3,214.1 445.6,214.2 445.8,214.3 446.0,214.4 446.2,214.5 446.5,214.6 446.7,214.7 446.9,214.8 447.1,214.9 447.4,214.9 447.6,215.0 447.8,215.1 448.0,215.2 448.3,215.3 448.5,215.4 448.7,215.5 449.0,215.6 449.2,215.6 449.4,215.7 449.6,215.8 449.9,215.9 450.1,216.0 450.3,216.0 450.5,216.1 450.8,216.2 451.0,216.3 451.2,216.3 451.5,216.4 451.7,216.5 451.9,216.5 452.1,216.6 452.4,216.7 452.6,216.7 452.8,216.8 453.0,216.9 453.3,217.0 453.5,217.0 453.7,217.1 453.9,217.2 454.2,217.2 454.4,217.3 454.6,217.4 454.9,217.4 455.1,217.5 455.3,217.6 455.5,217.6 455.8,217.7 456.0,217.8 456.2,217.8 456.4,217.9 456.7,218.0 456.9,218.0 457.1,218.1 457.4,218.2 457.6,218.2 457.8,218.3 458.0,218.4 458.3,218.4 458.5,218.5 458.7,218.6 458.9,218.6 459.2,218.7 459.4,218.8 459.6,218.8 459.9,218.9 460.1,219.0 460.3,219.0 460.5,219.1 460.8,219.2 461.0,219.3 461.2,219.3 461.4,219.4 461.7,219.5 461.9,219.5 462.1,219.6 462.3,219.7 462.6,219.7 462.8,219.8 463.0,219.9 463.3,219.9 463.5,220.0 463.7,220.1 463.9,220.1 464.2,220.2 464.4,220.3 464.6,220.3 464.8,220.4 465.1,220.5 465.3,220.5 465.5,220.6 465.8,220.7 466.0,220.7 466.2,220.8 466.4,220.9 466.7,220.9 466.9,221.0 467.1,221.1 467.3,221.1 467.6,221.2 467.8,221.3 468.0,221.3 468.3,221.4 468.5,221.5 468.7,221.6 468.9,221.6 469.2,221.7 469.4,221.8 469.6,221.8 469.8,221.9 470.1,221.9 470.3,222.0 470.5,222.1 470.7,222.1 471.0,222.2 471.2,222.3 471.4,222.3 471.7,222.4 471.9,222.4 472.1,222.5 472.3,222.6 472.6,222.6 472.8,222.7 473.0,222.7 473.2,222.8 473.5,222.9 473.7,222.9 473.9,223.0 474.2,223.1 474.4,223.1 474.6,223.2 474.8,223.2 475.1,223.3 475.3,223.4 475.5,223.4 475.7,223.5 476.0,223.5 476.2,223.6 476.4,223.7 476.6,223.7 476.9,223.8 477.1,223.8 477.3,223.9 477.6,224.0 477.8,224.0 478.0,224.1 478.2,224.1 478.5,224.2 478.7,224.3 478.9,224.3 479.1,224.4 479.4,224.4 479.6,224.5 479.8,224.6 480.1,224.6 480.3,224.7 480.5,224.8 480.7,224.8 481.0,224.9 481.2,224.9 481.4,225.0 481.6,225.1 481.9,225.1 482.1,225.2 482.3,225.2 482.6,225.3 482.8,225.4 483.0,225.4 483.2,225.5 483.5,225.5 483.7,225.6 483.9,225.7 484.1,225.7 484.4,225.8 484.6,225.8 484.8,225.9 485.0,226.0 485.3,226.0 485.5,226.1 485.7,226.1 486.0,226.2 486.2,226.3 486.4,226.3 486.6,226.4 486.9,226.5 487.1,226.5 487.3,226.6 487.5,226.6 487.8,226.7 488.0,226.8 488.2,226.8 488.5,226.9 488.7,226.9 488.9,227.0 489.1,227.1 489.4,227.1 489.6,227.2 489.8,227.2 490.0,227.3 490.3,227.3 490.5,227.4 490.7,227.5 491.0,227.5 491.2,227.6 491.4,227.6 491.6,227.7 491.9,227.7 492.1,227.8 492.3,227.8 492.5,227.9 492.8,227.9 493.0,228.0 493.2,228.0 493.4,228.1 493.7,228.1 493.9,228.2 494.1,228.2 494.4,228.3 494.6,228.4 494.8,228.4 495.0,228.5 495.3,228.5 495.5,228.6 495.7,228.6 495.9,228.7 496.2,228.7 496.4,228.8 496.6,228.8 496.9,228.9 497.1,228.9 497.3,229.0 497.5,229.0 497.8,229.1 498.0,229.1 498.2,229.2 498.4,229.2 498.7,229.3 498.9,229.4 499.1,229.4 499.4,229.5 499.6,229.5 499.8,229.6 500.0,229.6 500.3,229.7 500.5,229.7 500.7,229.8 500.9,229.8 501.2,229.9 501.4,229.9 501.6,230.0 501.8,230.0 502.1,230.1 502.3,230.1 502.5,230.2 502.8,230.2 503.0,230.3 503.2,230.3 503.4,230.4 503.7,230.5 503.9,230.5 504.1,230.6 504.3,230.6 504.6,230.7 504.8,230.7 505.0,230.8 505.3,230.8 505.5,230.9 505.7,230.9 505.9,231.0 506.2,231.0 506.4,231.1 506.6,231.1 506.8,231.2 507.1,231.2 507.3,231.3 507.5,231.3 507.7,231.4 508.0,231.4 508.2,231.5 508.4,231.6 508.7,231.6 508.9,231.7 509.1,231.7 509.3,231.8 509.6,231.8 509.8,231.9 510.0,231.9 510.2,232.0 510.5,232.0 510.7,232.1 510.9,232.1 511.2,232.2 511.4,232.2 511.6,232.3 511.8,232.3 512.1,232.4 512.3,232.4 512.5,232.5 512.7,232.5 513.0,232.6 513.2,232.6 513.4,232.7 513.7,232.7 513.9,232.8 514.1,232.8 514.3,232.9 514.6,232.9 514.8,233.0 515.0,233.0 515.2,233.1 515.5,233.1 515.7,233.2 515.9,233.2 516.1,233.3 516.4,233.3 516.6,233.4 516.8,233.4 517.1,233.5 517.3,233.5 517.5,233.6 517.7,233.6 518.0,233.7 518.2,233.7 518.4,233.8 518.6,233.8 518.9,233.9 519.1,233.9 519.3,234.0 519.6,234.0 519.8,234.1 520.0,234.1 520.2,234.2 520.5,234.2 520.7,234.3 520.9,234.3 521.1,234.4 521.4,234.4 521.6,234.5 521.8,234.5 522.0,234.6 522.3,234.6 522.5,234.7 522.7,234.7 523.0,234.8 523.2,234.8 523.4,234.9 523.6,234.9 523.9,235.0 524.1,235.0 524.3,235.1 524.5,235.1 524.8,235.2 525.0,235.2 525.2,235.3 525.5,235.3 525.7,235.4 525.9,235.4 526.1,235.5 526.4,235.5 526.6,235.6 526.8,235.6 527.0,235.7 527.3,235.7 527.5,235.8 527.7,235.8 528.0,235.9 528.2,235.9 528.4,236.0 528.6,236.0 528.9,236.1 529.1,236.1 529.3,236.2 529.5,236.2 529.8,236.3 530.0,236.3 530.2,236.4 530.4,236.4 530.7,236.5 530.9,236.5 531.1,236.6 531.4,236.6 531.6,236.7 531.8,236.7 532.0,236.8 532.3,236.8 532.5,236.8 532.7,236.9 532.9,236.9 533.2,236.9" fill="none" stroke="#1f77b4" stroke-width="1.1" stroke-linejoin="round" stroke-opacity="1"/>
<polyline points="306.4,92.9 306.6,79.7 306.9,64.9 307.1,50.5 307.3,46.5 307.5,42.3 307.8,37.7 308.0,35.9 308.2,35.0 308.4,34.2 308.7,32.8 308.9,31.5 309.1,33.0 309.4,30.9 309.6,31.1 309.8,31.4 310.0,30.1 310.3,29.1 310.5,28.9 310.7,30.7 310.9,29.0 311.2,26.6 311.4,30.1 311.6,31.4 311.8,27.5 312.1,26.9 312.3,27.1 312.5,30.3 312.8,27.0 313.0,29.6 313.2,30.4 313.4,29.3 313.7,28.3 313.9,26.6 314.1,26.7 314.3,28.1 314.6,26.8 314.8,27.9 315.0,28.4 315.3,31.1 315.5,31.4 315.7,26.4 315.9,31.1 316.2,28.7 316.4,28.3 316.6,29.1 316.8,29.1 317.1,27.0 317.3,33.7 317.5,27.6 317.8,28.2 318.0,28.0 318.2,28.1 318.4,26.4 318.7,27.7 318.9,30.8 319.1,27.8 319.3,28.5 319.6,26.7 319.8,27.7 320.0,26.5 320.2,29.1 320.5,28.1 320.7,29.9 320.9,30.0 321.2,28.8 321.4,28.9 321.6,31.5 321.8,26.7 322.1,29.1 322.3,32.3 322.5,27.4 322.7,30.9 323.0,27.8 323.2,29.2 323.4,28.6 323.7,28.9 323.9,30.9 324.1,29.4 324.3,27.2 324.6,35.5 324.8,29.6 325.0,28.7 325.2,32.7 325.5,33.6 325.7,27.7 325.9,31.1 326.1,27.3 326.4,28.9 326.6,30.2 326.8,29.2 327.1,28.8 327.3,27.4 327.5,29.5 327.7,30.4 328.0,30.4 328.2,27.2 328.4,28.8 328.6,33.9 328.9,33.0 329.1,30.4 329.3,33.1 329.6,32.5 329.8,34.2 330.0,32.4 330.2,30.5 330.5,29.1 330.7,32.1 330.9,28.5 331.1,32.5 331.4,28.4 331.6,30.0 331.8,31.9 332.1,35.0 332.3,37.5 332.5,34.3 332.7,36.0 333.0,28.8 333.2,38.7 333.4,31.5 333.6,38.0 333.9,30.1 334.1,33.9 334.3,39.1 334.5,40.8 334.8,41.2 335.0,38.8 335.2,39.6 335.5,48.1 335.7,47.0 335.9,34.2 336.1,43.6 336.4,52.1 336.6,45.6 336.8,49.9 337.0,49.0 337.3,51.9 337.5,50.1 337.7,53.6 338.0,51.7 338.2,53.8 338.4,43.3 338.6,52.6 338.9,49.6 339.1,55.2 339.3,46.4 339.5,51.4 339.8,56.1 340.0,45.0 340.2,55.6 340.4,28.4 340.7,53.8 340.9,54.9 341.1,55.2 341.4,45.0 341.6,56.1 341.8,60.8 342.0,64.9 342.3,41.4 342.5,47.4 342.7,44.8 342.9,61.2 343.2,67.6 343.4,59.7 343.6,67.8 343.9,66.2 344.1,51.4 344.3,67.5 344.5,71.5 344.8,64.5 345.0,74.4 345.2,61.7 345.4,72.7 345.7,53.5 345.9,75.6 346.1,75.5 346.4,72.1 346.6,76.7 346.8,71.0 347.0,65.7 347.3,72.7 347.5,67.2 347.7,70.4 347.9,72.6 348.2,78.9 348.4,75.6 348.6,63.9 348.8,65.1 349.1,69.2 349.3,80.9 349.5,61.8 349.8,81.4 350.0,76.4 350.2,56.0 350.4,88.1 350.7,77.9 350.9,70.5 351.1,81.9 351.3,90.0 351.6,70.5 351.8,66.4 352.0,61.5 352.3,89.1 352.5,91.9 352.7,79.7 352.9,54.9 353.2,85.5 353.4,72.1 353.6,89.3 353.8,78.7 354.1,76.8 354.3,89.3 354.5,61.4 354.8,88.1 355.0,60.6 355.2,93.4 355.4,97.3 355.7,100.5 355.9,75.7 356.1,87.4 356.3,93.9 356.6,96.9 356.8,95.7 357.0,73.9 357.2,85.6 357.5,106.2 357.7,103.4 357.9,104.9 358.2,90.6 358.4,93.3 358.6,83.5 358.8,99.7 359.1,99.4 359.3,101.9 359.5,88.1 359.7,106.3 360.0,102.9 360.2,110.5 360.4,89.1 360.7,109.1 360.9,104.1 361.1,100.4 361.3,104.0 361.6,114.0 361.8,95.1 362.0,92.3 362.2,100.7 362.5,106.2 362.7,103.5 362.9,68.2 363.1,110.3 363.4,111.7 363.6,94.1 363.8,77.9 364.1,91.4 364.3,105.4 364.5,79.3 364.7,111.1 365.0,100.1 365.2,118.8 365.4,97.0 365.6,108.3 365.9,90.8 366.1,122.6 366.3,105.0 366.6,110.3 366.8,112.1 367.0,107.9 367.2,113.8 367.5,102.2 367.7,120.7 367.9,106.9 368.1,98.0 368.4,120.8 368.6,83.7 368.8,114.4 369.1,119.9 369.3,108.5 369.5,109.4 369.7,112.1 370.0,126.9 370.2,106.6 370.4,107.3 370.6,123.6 370.9,92.7 371.1,119.1 371.3,114.7 371.5,129.2 371.8,114.1 372.0,128.4 372.2,130.7 372.5,119.5 372.7,103.7 372.9,127.3 373.1,130.1 373.4,107.6 373.6,110.9 373.8,123.8 374.0,120.6 374.3,132.2 374.5,134.2 374.7,135.1 375.0,128.9 375.2,117.0 375.4,129.7 375.6,127.0 375.9,119.7 376.1,140.8 376.3,117.0 376.5,125.5 376.8,137.6 377.0,132.3 377.2,141.0 377.5,124.4 377.7,131.3 377.9,134.0 378.1,141.8 378.4,128.3 378.6,127.8 378.8,126.6 379.0,145.0 379.3,137.9 379.5,139.4 379.7,125.1 379.9,127.0 380.2,131.5 380.4,126.1 380.6,136.9 380.9,97.3 381.1,140.8 381.3,139.3 381.5,148.4 381.8,136.6 382.0,137.5 382.2,125.4 382.4,137.1 382.7,151.0 382.9,141.8 383.1,141.8 383.4,135.3 383.6,142.5 383.8,148.6 384.0,143.5 384.3,143.7 384.5,154.4 384.7,153.6 384.9,146.2 385.2,134.1 385.4,146.7 385.6,149.5 385.8,144.3 386.1,149.9 386.3,162.8 386.5,156.8 386.8,135.4 387.0,151.7 387.2,163.0 387.4,152.6 387.7,156.3 387.9,117.1 388.1,164.4 388.3,148.9 388.6,139.7 388.8,149.6 389.0,168.3 389.3,157.6 389.5,167.7 389.7,164.8 389.9,152.4 390.2,174.4 390.4,148.4 390.6,135.2 390.8,151.8 391.1,166.4 391.3,133.4 391.5,158.8 391.8,177.5 392.0,173.1 392.2,160.6 392.4,163.2 392.7,157.9 392.9,159.3 393.1,173.6 393.3,170.8 393.6,162.2 393.8,132.7 394.0,151.9 394.2,146.0 394.5,158.3 394.7,170.1 394.9,174.4 395.2,180.6 395.4,169.8 395.6,165.4 395.8,176.6 396.1,184.2 396.3,186.0 396.5,185.9 396.7,146.3 397.0,143.1 397.2,157.7 397.4,163.6 397.7,165.5 397.9,185.3 398.1,126.4 398.3,174.2 398.6,172.4 398.8,179.3 399.0,187.7 399.2,171.2 399.5,158.5 399.7,168.9 399.9,188.6 400.2,146.8 400.4,158.1 400.6,189.4 400.8,181.6 401.1,139.1 401.3,181.6 401.5,181.7 401.7,176.6 402.0,172.7 402.2,179.6 402.4,164.4 402.6,181.9 402.9,185.3 403.1,193.6 403.3,176.0 403.6,139.1 403.8,172.0 404.0,161.0 404.2,176.0 404.5,176.8 404.7,196.1 404.9,186.9 405.1,184.5 405.4,170.8 405.6,184.2 405.8,195.4 406.1,196.4 406.3,185.8 406.5,181.8 406.7,142.5 407.0,193.9 407.2,189.9 407.4,189.6 407.6,155.7 407.9,187.5 408.1,186.5 408.3,177.9 408.5,201.5 408.8,169.0 409.0,184.6 409.2,177.3 409.5,199.0 409.7,170.1 409.9,176.0 410.1,137.0 410.4,187.0 410.6,166.0 410.8,173.9 411.0,187.3 411.3,200.5 411.5,173.9 411.7,187.0 412.0,161.8 412.2,186.7 412.4,199.4 412.6,186.6 412.9,186.7 413.1,182.2 413.3,179.1 413.5,188.3 413.8,201.2 414.0,199.1 414.2,188.2 414.5,188.1 414.7,173.2 414.9,187.4 415.1,174.8 415.4,186.3 415.6,193.4 415.8,159.7 416.0,190.5 416.3,190.8 416.5,187.9 416.7,176.6 416.9,193.0 417.2,187.6 417.4,196.5 417.6,185.2 417.9,205.1 418.1,197.3 418.3,196.2 418.5,193.3 418.8,195.7 419.0,178.1 419.2,182.4 419.4,200.3 419.7,189.3 419.9,170.5 420.1,197.9 420.4,195.6 420.6,186.0 420.8,203.5 421.0,193.7 421.3,174.5 421.5,164.9 421.7,201.2 421.9,176.4 422.2,203.0 422.4,160.5 422.6,186.6 422.9,194.8 423.1,196.9 423.3,186.4 423.5,170.5 423.8,185.8 424.0,177.5 424.2,180.0 424.4,181.5 424.7,158.6 424.9,178.2 425.1,192.9 425.3,189.7 425.6,205.9 425.8,206.9 426.0,198.2 426.3,194.8 426.5,198.5 426.7,197.2 426.9,180.6 427.2,191.9 427.4,208.3 427.6,185.7 427.8,186.4 428.1,195.7 428.3,193.4 428.5,201.5 428.8,190.9 429.0,201.5 429.2,197.8 429.4,185.0 429.7,195.9 429.9,196.7 430.1,175.6 430.3,199.8 430.6,183.2 430.8,194.4 431.0,202.6 431.2,202.0 431.5,190.8 431.7,171.8 431.9,205.8 432.2,207.8 432.4,177.8 432.6,187.4 432.8,195.9 433.1,209.9 433.3,183.8 433.5,210.3 433.7,187.3 434.0,201.5 434.2,198.7 434.4,203.2 434.7,206.9 434.9,203.5 435.1,192.7 435.3,213.3 435.6,210.8 435.8,191.1 436.0,196.9 436.2,171.2 436.5,210.3 436.7,208.8 436.9,201.4 437.2,199.7 437.4,198.0 437.6,198.5 437.8,192.3 438.1,213.9 438.3,199.0 438.5,206.6 438.7,207.4 439.0,176.5 439.2,205.0 439.4,185.2 439.6,155.8 439.9,205.4 440.1,202.2 440.3,203.2 440.6,201.0 440.8,181.6 441.0,191.4 441.2,201.3 441.5,202.4 441.7,210.5 441.9,199.1 442.1,213.1 442.4,210.2 442.6,202.5 442.8,210.2 443.1,214.6 443.3,205.3 443.5,212.5 443.7,197.8 444.0,202.2 444.2,214.5 444.4,200.3 444.6,196.4 444.9,202.8 445.1,207.0 445.3,209.1 445.6,176.0 445.8,203.5 446.0,204.8 446.2,208.3 446.5,214.8 446.7,210.4 446.9,199.0 447.1,202.2 447.4,202.5 447.6,204.7 447.8,213.7 448.0,205.7 448.3,194.3 448.5,206.9 448.7,220.4 449.0,213.5 449.2,219.4 449.4,214.7 449.6,171.9 449.9,211.3 450.1,214.8 450.3,219.0 450.5,210.1 450.8,190.6 451.0,215.1 451.2,203.1 451.5,205.8 451.7,213.6 451.9,199.7 452.1,212.3 452.4,215.1 452.6,214.5 452.8,206.0 453.0,179.5 453.3,196.6 453.5,215.1 453.7,208.4 453.9,216.2 454.2,216.8 454.4,221.4 454.6,205.2 454.9,214.5 455.1,211.4 455.3,205.3 455.5,220.0 455.8,218.9 456.0,204.4 456.2,218.3 456.4,218.0 456.7,198.0 456.9,210.7 457.1,193.2 457.4,184.4 457.6,190.1 457.8,220.9 458.0,208.2 458.3,198.7 458.5,206.4 458.7,214.3 458.9,219.3 459.2,202.7 459.4,221.5 459.6,222.5 459.9,218.7 460.1,211.0 460.3,193.1 460.5,214.1 460.8,199.6 461.0,219.4 461.2,215.9 461.4,215.3 461.7,217.8 461.9,196.6 462.1,222.6 462.3,197.1 462.6,208.9 462.8,203.9 463.0,218.9 463.3,204.5 463.5,224.2 463.7,213.8 463.9,208.9 464.2,218.9 464.4,223.1 464.6,220.2 464.8,216.1 465.1,217.2 465.3,225.9 465.5,205.4 465.8,223.1 466.0,210.3 466.2,219.8 466.4,225.0 466.7,203.2 466.9,215.8 467.1,209.3 467.3,208.9 467.6,210.6 467.8,220.5 468.0,208.8 468.3,202.6 468.5,220.3 468.7,222.9 468.9,219.8 469.2,200.5 469.4,215.4 469.6,194.3 469.8,218.5 470.1,214.4 470.3,193.5 470.5,189.9 470.7,205.9 471.0,223.9 471.2,214.7 471.4,215.6 471.7,223.6 471.9,198.1 472.1,210.5 472.3,222.7 472.6,224.6 472.8,213.0 473.0,227.3 473.2,203.2 473.5,220.0 473.7,225.6 473.9,209.1 474.2,223.3 474.4,217.3 474.6,214.1 474.8,224.1 475.1,211.3 475.3,197.7 475.5,202.2 475.7,217.0 476.0,206.4 476.2,225.3 476.4,218.2 476.6,201.6 476.9,225.3 477.1,214.5 477.3,206.2 477.6,215.4 477.8,189.5 478.0,220.7 478.2,222.0 478.5,227.8 478.7,214.4 478.9,215.7 479.1,224.4 479.4,212.6 479.6,193.4 479.8,222.3 480.1,198.3 480.3,208.2 480.5,219.4 480.7,231.4 481.0,219.1 481.2,224.9 481.4,214.1 481.6,223.1 481.9,220.2 482.1,224.8 482.3,223.6 482.6,213.4 482.8,231.0 483.0,202.1 483.2,211.0 483.5,231.5 483.7,215.2 483.9,222.5 484.1,224.5 484.4,221.1 484.6,220.6 484.8,226.5 485.0,223.9 485.3,204.5 485.5,230.8 485.7,207.6 486.0,226.6 486.2,213.6 486.4,230.1 486.6,226.9 486.9,222.3 487.1,233.1 487.3,230.1 487.5,197.3 487.8,209.9 488.0,207.8 488.2,212.9 488.5,225.5 488.7,193.6 488.9,183.3 489.1,229.5 489.4,220.8 489.6,221.9 489.8,221.3 490.0,208.9 490.3,220.7 490.5,219.5 490.7,220.8 491.0,230.7 491.2,195.4 491.4,231.3 491.6,224.2 491.9,223.3 492.1,217.1 492.3,214.2 492.5,233.7 492.8,219.6 493.0,229.6 493.2,216.4 493.4,233.8 493.7,219.1 493.9,234.8 494.1,231.5 494.4,222.9 494.6,214.8 494.8,212.4 495.0,217.9 495.3,227.5 495.5,219.5 495.7,223.1 495.9,227.1 496.2,209.6 496.4,221.3 496.6,221.6 496.9,213.4 497.1,227.2 497.3,223.7 497.5,231.7 497.8,230.0 498.0,232.7 498.2,231.6 498.4,230.9 498.7,224.7 498.9,217.9 499.1,228.2 499.4,222.6 499.6,191.2 499.8,229.0 500.0,226.4 500.3,227.4 500.5,201.8 500.7,221.8 500.9,233.7 501.2,220.7 501.4,230.9 501.6,225.3 501.8,216.8 502.1,222.7 502.3,231.9 502.5,234.4 502.8,229.7 503.0,222.0 503.2,229.9 503.4,229.9 503.7,181.7 503.9,225.1 504.1,214.5 504.3,237.1 504.6,232.6 504.8,234.0 505.0,229.2 505.3,216.4 505.5,220.5 505.7,224.5 505.9,219.4 506.2,226.8 506.4,224.9 506.6,204.3 506.8,218.1 507.1,212.2 507.3,198.9 507.5,234.0 507.7,195.3 508.0,234.1 508.2,211.2 508.4,227.8 508.7,197.7 508.9,211.8 509.1,232.2 509.3,220.7 509.6,220.6 509.8,231.2 510.0,224.5 510.2,231.2 510.5,229.1 510.7,227.4 510.9,226.5 511.2,233.9 511.4,203.5 511.6,235.4 511.8,225.6 512.1,231.7 512.3,212.4 512.5,230.7 512.7,230.8 513.0,205.6 513.2,231.2 513.4,227.9 513.7,233.0 513.9,223.1 514.1,226.0 514.3,234.6 514.6,225.6 514.8,231.8 515.0,224.4 515.2,235.1 515.5,220.0 515.7,218.3 515.9,234.1 516.1,229.1 516.4,222.9 516.6,236.4 516.8,228.1 517.1,226.3 517.3,236.0 517.5,234.3 517.7,215.8 518.0,226.0 518.2,231.4 518.4,235.6 518.6,223.9 518.9,233.3 519.1,202.3 519.3,226.9 519.6,219.4 519.8,228.1 520.0,213.8 520.2,227.0 520.5,235.4 520.7,228.2 520.9,232.3 521.1,228.7 521.4,231.8 521.6,230.7 521.8,234.0 522.0,233.0 522.3,228.9 522.5,232.4 522.7,221.5 523.0,224.0 523.2,233.4 523.4,237.2 523.6,218.9 523.9,233.7 524.1,237.4 524.3,235.6 524.5,233.2 524.8,219.1 525.0,224.8 525.2,230.8 525.5,238.1 525.7,233.9 525.9,235.3 526.1,218.4 526.4,233.0 526.6,205.5 526.8,228.4 527.0,236.2 527.3,231.1 527.5,236.9 527.7,229.1 528.0,240.5 528.2,222.7 528.4,231.3 528.6,227.0 528.9,238.6 529.1,210.2 529.3,238.7 529.5,231.8 529.8,238.9 530.0,235.1 530.2,231.3 530.4,239.6 530.7,234.4 530.9,230.7 531.1,238.4 531.4,227.3 531.6,234.9 531.8,239.1 532.0,237.3 532.3,238.1 532.5,234.6 532.7,230.2 532.9,234.4 533.2,232.7" fill="none" stroke="#ff7f0e" stroke-width="1.05" stroke-linejoin="round" stroke-opacity="1"/>
<rect x="295.0" y="13.1" width="249.8" height="242.8" fill="none" stroke="#8c8c8c" stroke-width="0.9"/>
<line x1="306.4" y1="255.9" x2="306.4" y2="257.7" stroke="#8c8c8c" stroke-width="0.9"/>
<text x="306.4" y="264.7" font-size="5.5" text-anchor="middle" fill="#303030" stroke="#303030" stroke-width="0.12" font-weight="normal">0</text>
<line x1="351.8" y1="255.9" x2="351.8" y2="257.7" stroke="#8c8c8c" stroke-width="0.9"/>
<text x="351.8" y="264.7" font-size="5.5" text-anchor="middle" fill="#303030" stroke="#303030" stroke-width="0.12" font-weight="normal">200</text>
<line x1="397.2" y1="255.9" x2="397.2" y2="257.7" stroke="#8c8c8c" stroke-width="0.9"/>
<text x="397.2" y="264.7" font-size="5.5" text-anchor="middle" fill="#303030" stroke="#303030" stroke-width="0.12" font-weight="normal">400</text>
<line x1="442.6" y1="255.9" x2="442.6" y2="257.7" stroke="#8c8c8c" stroke-width="0.9"/>
<text x="442.6" y="264.7" font-size="5.5" text-anchor="middle" fill="#303030" stroke="#303030" stroke-width="0.12" font-weight="normal">600</text>
<line x1="488.0" y1="255.9" x2="488.0" y2="257.7" stroke="#8c8c8c" stroke-width="0.9"/>
<text x="488.0" y="264.7" font-size="5.5" text-anchor="middle" fill="#303030" stroke="#303030" stroke-width="0.12" font-weight="normal">800</text>
<line x1="533.4" y1="255.9" x2="533.4" y2="257.7" stroke="#8c8c8c" stroke-width="0.9"/>
<text x="533.4" y="264.7" font-size="5.5" text-anchor="middle" fill="#303030" stroke="#303030" stroke-width="0.12" font-weight="normal">1000</text>
<line x1="293.2" y1="220.5" x2="295.0" y2="220.5" stroke="#8c8c8c" stroke-width="0.9"/>
<text x="291.0" y="222.5" font-size="5.5" text-anchor="end" fill="#303030" stroke="#303030" stroke-width="0.12" font-weight="normal">0.2</text>
<line x1="293.2" y1="171.9" x2="295.0" y2="171.9" stroke="#8c8c8c" stroke-width="0.9"/>
<text x="291.0" y="173.9" font-size="5.5" text-anchor="end" fill="#303030" stroke="#303030" stroke-width="0.12" font-weight="normal">0.4</text>
<line x1="293.2" y1="123.3" x2="295.0" y2="123.3" stroke="#8c8c8c" stroke-width="0.9"/>
<text x="291.0" y="125.3" font-size="5.5" text-anchor="end" fill="#303030" stroke="#303030" stroke-width="0.12" font-weight="normal">0.6</text>
<line x1="293.2" y1="74.7" x2="295.0" y2="74.7" stroke="#8c8c8c" stroke-width="0.9"/>
<text x="291.0" y="76.7" font-size="5.5" text-anchor="end" fill="#303030" stroke="#303030" stroke-width="0.12" font-weight="normal">0.8</text>
<line x1="293.2" y1="26.1" x2="295.0" y2="26.1" stroke="#8c8c8c" stroke-width="0.9"/>
<text x="291.0" y="28.1" font-size="5.5" text-anchor="end" fill="#303030" stroke="#303030" stroke-width="0.12" font-weight="normal">1.0</text>
<text x="419.9" y="9.7" font-size="6.6" text-anchor="middle" fill="#303030" stroke="#303030" stroke-width="0.12" font-weight="normal">Model Loss</text>
<text x="419.7" y="272.2" font-size="5.45" text-anchor="middle" fill="#303030" stroke="#303030" stroke-width="0.12" font-weight="normal">Epoch</text>
<text x="279.0" y="135.1" font-size="5.45" text-anchor="middle" fill="#303030" stroke="#303030" stroke-width="0.12" font-weight="normal" transform="rotate(-90 279.0 135.1)">Loss</text>
<rect x="507.4" y="15.6" width="34.2" height="17.8" rx="1.2" fill="#fff" fill-opacity="0.8" stroke="#d0d0d0" stroke-width="0.6"/>
<line x1="510.0" y1="20.1" x2="521.7" y2="20.1" stroke="#1f77b4" stroke-width="1.0"/>
<text x="526.2" y="22.0" font-size="5.4" text-anchor="start" fill="#303030" stroke="#303030" stroke-width="0.12" font-weight="normal">Train</text>
<line x1="510.0" y1="28.3" x2="521.7" y2="28.3" stroke="#ff7f0e" stroke-width="1.0"/>
<text x="526.2" y="30.2" font-size="5.4" text-anchor="start" fill="#303030" stroke="#303030" stroke-width="0.12" font-weight="normal">Test</text>
<text x="419.4" y="286.8" font-size="3.4" text-anchor="middle" fill="#222" stroke="#222" stroke-width="0.12" font-weight="bold">(b)</text>
</g>
<g>
<polyline points="44.5,405.2 45.6,396.8 46.7,388.2 47.8,380.8 48.9,372.0 50.0,365.2 51.1,359.3 52.2,355.0 53.2,350.9 54.3,346.1 55.4,341.8 56.5,337.4 57.6,335.7 58.7,332.5 59.8,327.3 60.9,329.7 62.0,326.2 63.1,325.5 64.2,327.9 65.3,324.5 66.4,325.0 67.5,325.0 68.5,325.6 69.6,324.6 70.7,321.1 71.8,321.6 72.9,320.0 74.0,321.3 75.1,319.6 76.2,319.3 77.3,320.8 78.4,320.7 79.5,317.6 80.6,317.7 81.7,318.9 82.8,317.6 83.8,316.4 84.9,314.6 86.0,317.9 87.1,315.7 88.2,313.6 89.3,316.1 90.4,314.3 91.5,319.1 92.6,314.2 93.7,315.8 94.8,317.9 95.9,314.7 97.0,314.3 98.1,314.0 99.2,314.0 100.2,315.3 101.3,315.9 102.4,315.5 103.5,315.0 104.6,314.4 105.7,315.2 106.8,314.6 107.9,313.7 109.0,314.1 110.1,312.1 111.2,312.1 112.3,315.3 113.4,314.6 114.5,315.3 115.5,315.1 116.6,313.4 117.7,314.9 118.8,314.9 119.9,314.1 121.0,313.0 122.1,314.1 123.2,314.0 124.3,312.8 125.4,313.2 126.5,313.1 127.6,312.6 128.7,314.5 129.8,313.2 130.8,314.0 131.9,312.4 133.0,312.5 134.1,314.3 135.2,312.0 136.3,314.3 137.4,312.1 138.5,312.9 139.6,313.9 140.7,314.1 141.8,313.3 142.9,313.0 144.0,313.6 145.1,312.4 146.1,314.2 147.2,312.8 148.3,312.8 149.4,314.5 150.5,312.4 151.6,313.8 152.7,315.0 153.8,313.2 154.9,312.8 156.0,311.8 157.1,313.1 158.2,311.2 159.3,311.3 160.4,311.6 161.5,311.4 162.5,312.3 163.6,313.1 164.7,312.0 165.8,311.7 166.9,312.3 168.0,312.8 169.1,314.0 170.2,311.9 171.3,312.2 172.4,313.7 173.5,312.4 174.6,311.9 175.7,312.6 176.8,311.8 177.8,311.8 178.9,313.8 180.0,312.8 181.1,312.0 182.2,311.7 183.3,311.2 184.4,314.2 185.5,312.5 186.6,311.8 187.7,311.4 188.8,311.0 189.9,313.3 191.0,312.8 192.1,313.4 193.1,311.7 194.2,313.6 195.3,311.4 196.4,311.6 197.5,312.0 198.6,314.3 199.7,313.0 200.8,311.7 201.9,313.6 203.0,312.6 204.1,312.4 205.2,311.6 206.3,312.1 207.4,312.1 208.4,312.7 209.5,312.3 210.6,312.4 211.7,311.7 212.8,312.5 213.9,311.4 215.0,313.8 216.1,311.3 217.2,312.4 218.3,311.3 219.4,312.2 220.5,311.5 221.6,311.0 222.7,312.7 223.8,312.2 224.8,312.4 225.9,312.1 227.0,313.6 228.1,312.4 229.2,312.4 230.3,312.9 231.4,312.4 232.5,313.5 233.6,311.0 234.7,311.8 235.8,311.0 236.9,312.9 238.0,313.1 239.1,311.9 240.1,313.5 241.2,312.0 242.3,312.7 243.4,312.4 244.5,311.9 245.6,312.1 246.7,311.0 247.8,311.6 248.9,313.2 250.0,311.3 251.1,313.2 252.2,312.0 253.3,313.1 254.4,312.8 255.4,311.0 256.5,312.5 257.6,312.6 258.7,312.5 259.8,312.3 260.9,311.0 262.0,313.0" fill="none" stroke="#1f77b4" stroke-width="1.45" stroke-linejoin="round" stroke-opacity="1"/>
<polyline points="44.5,436.3 45.6,452.2 46.5,405.0 47.4,368.0 48.7,355.2 50.5,363.9 52.0,351.9 53.1,346.5 54.2,358.5 55.3,343.2 56.4,356.3 57.5,339.9 59.2,336.6 60.7,349.7 62.3,337.7 64.0,336.6 65.7,335.5 67.3,337.7 69.0,345.4 70.5,337.7 72.3,331.2 73.8,326.8 74.9,332.3 77.1,330.1 79.3,332.3 81.0,336.6 82.5,329.0 84.3,332.3 85.8,327.9 87.6,331.2 89.1,326.8 90.6,329.0 92.4,325.7 94.1,332.3 95.6,325.7 97.2,326.8 98.9,334.5 100.7,325.7 102.2,326.8 103.7,325.7 105.5,323.5 106.6,333.4 108.1,335.5 109.4,324.6 110.9,327.9 112.4,325.7 114.2,334.5 115.7,325.7 117.0,323.5 118.6,330.1 120.3,324.6 121.8,327.9 123.6,323.5 125.1,329.0 126.8,323.5 128.4,326.8 129.9,324.6 131.6,323.5 133.4,332.3 134.9,330.1 136.4,325.7 138.2,329.0 139.9,325.7 141.5,324.6 143.0,326.8 144.7,323.5 146.5,325.7 148.0,326.8 150.0,324.6 151.8,326.9 153.4,322.3 155.0,325.7 156.8,332.5 158.6,324.6 160.2,330.3 161.8,325.7 163.6,324.6 165.5,331.4 167.0,325.7 168.6,332.5 170.5,324.6 172.3,329.1 173.9,325.7 175.5,323.5 177.3,328.0 179.1,322.3 180.7,326.9 182.3,324.6 184.1,329.1 185.2,336.0 186.8,326.9 188.6,324.6 190.5,326.9 192.0,323.5 193.6,324.6 195.5,323.5 197.7,323.9 199.5,325.7 201.1,324.6 202.7,328.0 204.5,330.3 206.1,325.7 208.0,328.0 209.5,323.5 211.4,330.3 213.2,325.7 214.8,331.4 216.4,324.6 218.2,325.7 220.0,329.1 221.6,323.5 223.2,325.7 225.0,330.3 226.8,324.6 228.4,328.0 230.0,323.5 231.8,325.7 233.6,332.5 235.2,326.9 236.8,323.5 238.6,325.7 240.2,322.3 242.0,328.0 243.6,323.5 245.5,325.7 247.3,322.3 248.2,320.0 249.5,336.0 250.7,321.2 252.3,323.5 253.4,329.1 255.0,322.3 256.8,325.7 258.6,329.1 260.2,324.6 261.8,330.3" fill="none" stroke="#ff7f0e" stroke-width="1.45" stroke-linejoin="round"/>
<rect x="33.8" y="303.7" width="239.6" height="155.6" fill="none" stroke="#4a4a4a" stroke-width="0.8"/>
<line x1="44.5" y1="459.3" x2="44.5" y2="461.7" stroke="#4a4a4a" stroke-width="0.8"/>
<text x="44.5" y="470.2" font-size="7.2" text-anchor="middle" fill="#1c1c1c" stroke="#1c1c1c" stroke-width="0.12" font-weight="normal">0</text>
<line x1="71.8" y1="459.3" x2="71.8" y2="461.7" stroke="#4a4a4a" stroke-width="0.8"/>
<text x="71.8" y="470.2" font-size="7.2" text-anchor="middle" fill="#1c1c1c" stroke="#1c1c1c" stroke-width="0.12" font-weight="normal">25</text>
<line x1="99.2" y1="459.3" x2="99.2" y2="461.7" stroke="#4a4a4a" stroke-width="0.8"/>
<text x="99.2" y="470.2" font-size="7.2" text-anchor="middle" fill="#1c1c1c" stroke="#1c1c1c" stroke-width="0.12" font-weight="normal">50</text>
<line x1="126.5" y1="459.3" x2="126.5" y2="461.7" stroke="#4a4a4a" stroke-width="0.8"/>
<text x="126.5" y="470.2" font-size="7.2" text-anchor="middle" fill="#1c1c1c" stroke="#1c1c1c" stroke-width="0.12" font-weight="normal">75</text>
<line x1="153.8" y1="459.3" x2="153.8" y2="461.7" stroke="#4a4a4a" stroke-width="0.8"/>
<text x="153.8" y="470.2" font-size="7.2" text-anchor="middle" fill="#1c1c1c" stroke="#1c1c1c" stroke-width="0.12" font-weight="normal">100</text>
<line x1="181.1" y1="459.3" x2="181.1" y2="461.7" stroke="#4a4a4a" stroke-width="0.8"/>
<text x="181.1" y="470.2" font-size="7.2" text-anchor="middle" fill="#1c1c1c" stroke="#1c1c1c" stroke-width="0.12" font-weight="normal">125</text>
<line x1="208.4" y1="459.3" x2="208.4" y2="461.7" stroke="#4a4a4a" stroke-width="0.8"/>
<text x="208.4" y="470.2" font-size="7.2" text-anchor="middle" fill="#1c1c1c" stroke="#1c1c1c" stroke-width="0.12" font-weight="normal">150</text>
<line x1="235.8" y1="459.3" x2="235.8" y2="461.7" stroke="#4a4a4a" stroke-width="0.8"/>
<text x="235.8" y="470.2" font-size="7.2" text-anchor="middle" fill="#1c1c1c" stroke="#1c1c1c" stroke-width="0.12" font-weight="normal">175</text>
<line x1="263.1" y1="459.3" x2="263.1" y2="461.7" stroke="#4a4a4a" stroke-width="0.8"/>
<text x="263.1" y="470.2" font-size="7.2" text-anchor="middle" fill="#1c1c1c" stroke="#1c1c1c" stroke-width="0.12" font-weight="normal">200</text>
<line x1="31.4" y1="452.4" x2="33.8" y2="452.4" stroke="#4a4a4a" stroke-width="0.8"/>
<text x="28.7" y="455.0" font-size="7.2" text-anchor="end" fill="#1c1c1c" stroke="#1c1c1c" stroke-width="0.12" font-weight="normal">0.3</text>
<line x1="31.4" y1="432.2" x2="33.8" y2="432.2" stroke="#4a4a4a" stroke-width="0.8"/>
<text x="28.7" y="434.8" font-size="7.2" text-anchor="end" fill="#1c1c1c" stroke="#1c1c1c" stroke-width="0.12" font-weight="normal">0.4</text>
<line x1="31.4" y1="412.0" x2="33.8" y2="412.0" stroke="#4a4a4a" stroke-width="0.8"/>
<text x="28.7" y="414.6" font-size="7.2" text-anchor="end" fill="#1c1c1c" stroke="#1c1c1c" stroke-width="0.12" font-weight="normal">0.5</text>
<line x1="31.4" y1="391.8" x2="33.8" y2="391.8" stroke="#4a4a4a" stroke-width="0.8"/>
<text x="28.7" y="394.4" font-size="7.2" text-anchor="end" fill="#1c1c1c" stroke="#1c1c1c" stroke-width="0.12" font-weight="normal">0.6</text>
<line x1="31.4" y1="371.6" x2="33.8" y2="371.6" stroke="#4a4a4a" stroke-width="0.8"/>
<text x="28.7" y="374.2" font-size="7.2" text-anchor="end" fill="#1c1c1c" stroke="#1c1c1c" stroke-width="0.12" font-weight="normal">0.7</text>
<line x1="31.4" y1="351.4" x2="33.8" y2="351.4" stroke="#4a4a4a" stroke-width="0.8"/>
<text x="28.7" y="354.0" font-size="7.2" text-anchor="end" fill="#1c1c1c" stroke="#1c1c1c" stroke-width="0.12" font-weight="normal">0.8</text>
<line x1="31.4" y1="331.2" x2="33.8" y2="331.2" stroke="#4a4a4a" stroke-width="0.8"/>
<text x="28.7" y="333.8" font-size="7.2" text-anchor="end" fill="#1c1c1c" stroke="#1c1c1c" stroke-width="0.12" font-weight="normal">0.9</text>
<line x1="31.4" y1="311.0" x2="33.8" y2="311.0" stroke="#4a4a4a" stroke-width="0.8"/>
<text x="28.7" y="313.6" font-size="7.2" text-anchor="end" fill="#1c1c1c" stroke="#1c1c1c" stroke-width="0.12" font-weight="normal">1.0</text>
<text x="153.6" y="300.0" font-size="8.6" text-anchor="middle" fill="#1c1c1c" stroke="#1c1c1c" stroke-width="0.12" font-weight="normal">Accuracy Vs Val_Accuracy</text>
<text x="153.6" y="479.8" font-size="7.2" text-anchor="middle" fill="#1c1c1c" stroke="#1c1c1c" stroke-width="0.12" font-weight="normal">Epoch</text>
<text x="12.8" y="382.0" font-size="7.0" text-anchor="middle" fill="#1c1c1c" stroke="#1c1c1c" stroke-width="0.12" font-weight="normal" transform="rotate(-90 12.8 382.0)">Accuracy</text>
<rect x="197.4" y="432.3" width="72.4" height="24.0" rx="1.2" fill="#fff" fill-opacity="0.8" stroke="#d0d0d0" stroke-width="0.6"/>
<line x1="199.7" y1="438.5" x2="215.0" y2="438.5" stroke="#1f77b4" stroke-width="1.45"/>
<text x="220.2" y="441.1" font-size="7.15" text-anchor="start" fill="#1c1c1c" stroke="#1c1c1c" stroke-width="0.12" font-weight="normal">accuracy</text>
<line x1="199.7" y1="449.5" x2="215.0" y2="449.5" stroke="#ff7f0e" stroke-width="1.45"/>
<text x="220.2" y="452.1" font-size="7.15" text-anchor="start" fill="#1c1c1c" stroke="#1c1c1c" stroke-width="0.12" font-weight="normal">val_accuracy</text>
<text x="152.3" y="490.4" font-size="4.4" text-anchor="middle" fill="#222" stroke="#222" stroke-width="0.12" font-weight="bold">(c)</text>
</g>
<g>
<polyline points="318.7,328.5 319.8,335.8 320.9,343.2 321.9,350.6 323.0,357.7 324.1,365.4 325.2,369.6 326.2,377.1 327.3,383.3 328.4,387.2 329.5,392.9 330.5,395.6 331.6,398.9 332.7,404.3 333.8,406.3 334.8,410.0 335.9,412.8 337.0,412.8 338.1,416.3 339.2,418.0 340.0,420.0 341.9,422.9 343.4,425.7 344.8,424.8 346.1,428.6 347.6,427.6 349.0,431.5 350.5,430.5 351.8,434.3 353.4,433.4 354.9,436.2 356.2,431.5 357.6,435.3 359.1,433.4 360.6,436.2 362.0,436.8 363.3,437.6 364.8,438.1 366.3,438.1 367.7,439.1 369.0,438.7 370.5,439.5 372.1,439.1 373.4,439.1 374.7,438.1 375.7,434.3 376.7,442.0 377.6,444.8 378.8,434.3 379.7,441.0 380.7,439.1 382.0,442.0 383.3,439.1 384.3,433.4 385.4,441.0 386.8,443.9 388.1,442.0 389.3,442.9 390.6,441.0 391.9,442.5 392.9,436.2 394.0,442.9 395.4,440.0 396.7,443.9 398.2,442.0 399.6,443.3 400.7,442.5 402.0,443.9 403.4,442.9 404.5,438.1 405.5,443.9 406.8,442.9 408.2,444.8 409.7,445.8 411.0,444.4 412.5,443.9 413.5,435.3 414.5,442.0 415.8,443.9 417.3,443.3 418.7,444.4 420.2,443.9 421.7,444.8 423.0,442.9 424.4,445.2 425.9,442.5 427.2,444.8 428.8,442.0 430.1,445.2 431.6,443.9 433.2,446.3 434.5,445.8 436.0,446.7 437.4,446.3 438.9,445.2 440.0,445.8 441.9,443.9 443.4,445.8 444.8,444.8 445.7,440.0 446.7,445.8 447.6,442.0 448.6,446.7 449.5,442.9 450.9,443.9 451.8,445.8 453.0,446.7 454.3,447.7 455.7,448.6 457.2,444.8 458.7,443.9 460.0,448.6 461.4,445.8 462.5,443.9 463.9,444.8 465.2,444.4 466.7,445.8 468.3,446.3 469.6,446.7 470.9,445.8 472.5,447.7 474.0,448.6 475.3,443.9 476.7,442.9 477.8,444.8 479.1,445.8 480.5,446.3 482.0,447.1 483.5,446.7 484.9,446.3 486.2,445.8 487.7,442.0 488.7,440.6 490.0,445.8 491.2,446.7 492.5,447.7 493.8,445.8 495.0,442.9 495.9,439.1 497.3,444.8 498.8,446.7 500.1,447.1 501.5,447.7 503.0,446.7 504.3,445.8 505.9,444.8 507.2,443.3 508.3,446.7 509.7,448.6 510.6,442.9 511.6,438.1 512.9,444.8 514.1,445.8 515.4,446.3 516.7,447.7 518.3,448.6 519.8,446.7 521.1,443.3 522.1,442.9 523.2,448.3 524.4,443.9 525.5,443.3 526.9,446.7 528.2,448.6 529.7,446.7 531.1,449.0 532.6,447.1" fill="none" stroke="#1f77b4" stroke-width="1.45" stroke-linejoin="round"/>
<polyline points="318.3,328.6 319.9,313.0 321.7,340.9 323.9,369.9 325.5,358.7 326.6,367.6 327.9,363.2 330.2,382.1 331.7,353.1 332.8,381.0 333.9,352.0 336.2,384.3 337.3,362.1 339.1,385.5 340.6,369.9 342.2,382.1 343.5,368.7 346.2,388.8 348.4,394.4 350.7,386.6 352.2,392.1 355.1,373.2 356.7,397.7 358.5,369.9 360.2,392.1 362.5,399.9 364.5,383.2 365.8,392.1 368.0,382.1 369.6,391.0 371.8,378.8 372.5,385.5 374.7,360.5 377.4,376.5 378.5,392.1 380.7,365.4 383.0,381.0 384.5,374.3 385.0,376.5 387.7,350.9 389.0,369.9 389.9,367.6 391.7,392.1 392.4,366.5 393.5,395.5 395.0,372.1 396.6,383.2 397.9,365.4 399.5,377.7 401.7,382.1 403.9,343.1 405.1,376.5 406.2,354.3 407.3,389.9 409.1,367.6 410.6,374.3 412.2,371.0 414.0,389.9 415.1,375.4 416.2,388.8 417.3,357.6 418.4,383.2 420.2,353.1 421.8,363.2 423.3,343.1 424.7,372.1 425.6,365.4 426.4,372.1 429.6,337.5 431.4,358.7 432.2,348.7 433.6,369.9 435.8,360.9 436.7,354.3 438.5,343.1 440.7,372.1 442.3,358.7 443.4,376.5 444.7,357.6 445.8,376.5 446.9,330.9 448.5,387.7 449.6,376.5 451.0,381.0 453.0,350.9 454.1,376.5 455.0,336.4 456.1,356.5 457.2,336.4 459.5,387.7 461.7,309.7 463.5,369.8 465.0,377.6 466.6,335.3 467.9,347.6 469.5,369.8 471.0,394.3 472.8,355.4 475.0,372.1 477.3,397.7 479.1,376.5 479.9,389.9 481.3,367.6 482.2,387.7 483.5,359.8 485.1,369.8 487.3,348.7 488.9,394.3 490.6,343.1 492.4,336.4 494.0,356.5 495.1,329.7 496.9,374.3 498.0,340.9 500.2,374.3 501.8,356.5 502.4,367.6 504.0,342.0 505.8,340.9 507.4,372.1 508.5,358.7 510.2,333.1 511.8,358.7 513.4,374.3 515.1,360.9 516.9,353.1 518.5,339.8 520.0,354.2 521.4,353.1 522.9,367.6 524.1,369.8 525.2,388.8 526.7,376.5 528.1,363.1 529.6,383.2 530.7,358.7 531.9,342.0 533.0,344.2" fill="none" stroke="#ff7f0e" stroke-width="1.45" stroke-linejoin="round"/>
<rect x="308.8" y="303.7" width="235.2" height="152.7" fill="none" stroke="#4a4a4a" stroke-width="0.8"/>
<line x1="318.7" y1="456.4" x2="318.7" y2="458.8" stroke="#4a4a4a" stroke-width="0.8"/>
<text x="318.7" y="467.3" font-size="7.2" text-anchor="middle" fill="#1c1c1c" stroke="#1c1c1c" stroke-width="0.12" font-weight="normal">0</text>
<line x1="345.6" y1="456.4" x2="345.6" y2="458.8" stroke="#4a4a4a" stroke-width="0.8"/>
<text x="345.6" y="467.3" font-size="7.2" text-anchor="middle" fill="#1c1c1c" stroke="#1c1c1c" stroke-width="0.12" font-weight="normal">25</text>
<line x1="372.5" y1="456.4" x2="372.5" y2="458.8" stroke="#4a4a4a" stroke-width="0.8"/>
<text x="372.5" y="467.3" font-size="7.2" text-anchor="middle" fill="#1c1c1c" stroke="#1c1c1c" stroke-width="0.12" font-weight="normal">50</text>
<line x1="399.4" y1="456.4" x2="399.4" y2="458.8" stroke="#4a4a4a" stroke-width="0.8"/>
<text x="399.4" y="467.3" font-size="7.2" text-anchor="middle" fill="#1c1c1c" stroke="#1c1c1c" stroke-width="0.12" font-weight="normal">75</text>
<line x1="426.4" y1="456.4" x2="426.4" y2="458.8" stroke="#4a4a4a" stroke-width="0.8"/>
<text x="426.4" y="467.3" font-size="7.2" text-anchor="middle" fill="#1c1c1c" stroke="#1c1c1c" stroke-width="0.12" font-weight="normal">100</text>
<line x1="453.3" y1="456.4" x2="453.3" y2="458.8" stroke="#4a4a4a" stroke-width="0.8"/>
<text x="453.3" y="467.3" font-size="7.2" text-anchor="middle" fill="#1c1c1c" stroke="#1c1c1c" stroke-width="0.12" font-weight="normal">125</text>
<line x1="480.2" y1="456.4" x2="480.2" y2="458.8" stroke="#4a4a4a" stroke-width="0.8"/>
<text x="480.2" y="467.3" font-size="7.2" text-anchor="middle" fill="#1c1c1c" stroke="#1c1c1c" stroke-width="0.12" font-weight="normal">150</text>
<line x1="507.1" y1="456.4" x2="507.1" y2="458.8" stroke="#4a4a4a" stroke-width="0.8"/>
<text x="507.1" y="467.3" font-size="7.2" text-anchor="middle" fill="#1c1c1c" stroke="#1c1c1c" stroke-width="0.12" font-weight="normal">175</text>
<line x1="534.0" y1="456.4" x2="534.0" y2="458.8" stroke="#4a4a4a" stroke-width="0.8"/>
<text x="534.0" y="467.3" font-size="7.2" text-anchor="middle" fill="#1c1c1c" stroke="#1c1c1c" stroke-width="0.12" font-weight="normal">200</text>
<line x1="306.4" y1="450.1" x2="308.8" y2="450.1" stroke="#4a4a4a" stroke-width="0.8"/>
<text x="303.4" y="452.7" font-size="7.2" text-anchor="end" fill="#1c1c1c" stroke="#1c1c1c" stroke-width="0.12" font-weight="normal">0.0</text>
<line x1="306.4" y1="432.6" x2="308.8" y2="432.6" stroke="#4a4a4a" stroke-width="0.8"/>
<text x="303.4" y="435.2" font-size="7.2" text-anchor="end" fill="#1c1c1c" stroke="#1c1c1c" stroke-width="0.12" font-weight="normal">0.1</text>
<line x1="306.4" y1="415.1" x2="308.8" y2="415.1" stroke="#4a4a4a" stroke-width="0.8"/>
<text x="303.4" y="417.7" font-size="7.2" text-anchor="end" fill="#1c1c1c" stroke="#1c1c1c" stroke-width="0.12" font-weight="normal">0.2</text>
<line x1="306.4" y1="397.6" x2="308.8" y2="397.6" stroke="#4a4a4a" stroke-width="0.8"/>
<text x="303.4" y="400.2" font-size="7.2" text-anchor="end" fill="#1c1c1c" stroke="#1c1c1c" stroke-width="0.12" font-weight="normal">0.3</text>
<line x1="306.4" y1="380.1" x2="308.8" y2="380.1" stroke="#4a4a4a" stroke-width="0.8"/>
<text x="303.4" y="382.7" font-size="7.2" text-anchor="end" fill="#1c1c1c" stroke="#1c1c1c" stroke-width="0.12" font-weight="normal">0.4</text>
<line x1="306.4" y1="362.6" x2="308.8" y2="362.6" stroke="#4a4a4a" stroke-width="0.8"/>
<text x="303.4" y="365.2" font-size="7.2" text-anchor="end" fill="#1c1c1c" stroke="#1c1c1c" stroke-width="0.12" font-weight="normal">0.5</text>
<line x1="306.4" y1="345.1" x2="308.8" y2="345.1" stroke="#4a4a4a" stroke-width="0.8"/>
<text x="303.4" y="347.7" font-size="7.2" text-anchor="end" fill="#1c1c1c" stroke="#1c1c1c" stroke-width="0.12" font-weight="normal">0.6</text>
<line x1="306.4" y1="327.6" x2="308.8" y2="327.6" stroke="#4a4a4a" stroke-width="0.8"/>
<text x="303.4" y="330.2" font-size="7.2" text-anchor="end" fill="#1c1c1c" stroke="#1c1c1c" stroke-width="0.12" font-weight="normal">0.7</text>
<line x1="306.4" y1="310.1" x2="308.8" y2="310.1" stroke="#4a4a4a" stroke-width="0.8"/>
<text x="303.4" y="312.7" font-size="7.2" text-anchor="end" fill="#1c1c1c" stroke="#1c1c1c" stroke-width="0.12" font-weight="normal">0.8</text>
<text x="426.0" y="300.0" font-size="8.5" text-anchor="middle" fill="#1c1c1c" stroke="#1c1c1c" stroke-width="0.12" font-weight="normal">Loss Vs Val_loss</text>
<text x="426.0" y="476.7" font-size="7.2" text-anchor="middle" fill="#1c1c1c" stroke="#1c1c1c" stroke-width="0.12" font-weight="normal">Epoch</text>
<text x="288.2" y="380.7" font-size="7.2" text-anchor="middle" fill="#1c1c1c" stroke="#1c1c1c" stroke-width="0.12" font-weight="normal" transform="rotate(-90 288.2 380.7)">Loss</text>
<rect x="487.0" y="306.9" width="52.9" height="23.2" rx="1.2" fill="#fff" fill-opacity="0.8" stroke="#d0d0d0" stroke-width="0.6"/>
<line x1="489.5" y1="312.6" x2="504.2" y2="312.6" stroke="#1f77b4" stroke-width="1.45"/>
<text x="509.9" y="315.2" font-size="7.15" text-anchor="start" fill="#1c1c1c" stroke="#1c1c1c" stroke-width="0.12" font-weight="normal">loss</text>
<line x1="489.5" y1="323.1" x2="504.2" y2="323.1" stroke="#ff7f0e" stroke-width="1.45"/>
<text x="509.9" y="325.7" font-size="7.15" text-anchor="start" fill="#1c1c1c" stroke="#1c1c1c" stroke-width="0.12" font-weight="normal">val_loss</text>
<text x="427.8" y="488.6" font-size="4.4" text-anchor="middle" fill="#222" stroke="#222" stroke-width="0.12" font-weight="bold">(d)</text>
</g>
</svg>
</body></html>
